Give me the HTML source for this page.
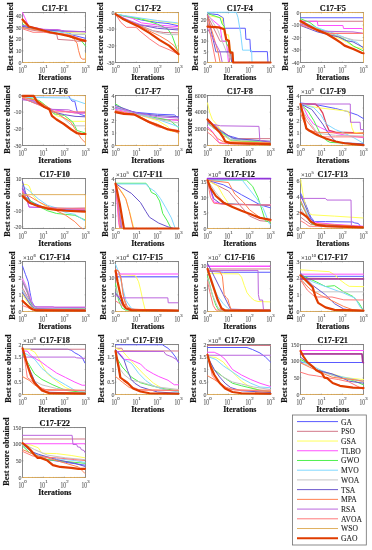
<!DOCTYPE html>
<html><head><meta charset="utf-8"><style>
html,body{margin:0;padding:0;background:#fff;}
body{width:372px;height:550px;overflow:hidden;}
svg{display:block;will-change:transform;}
.tk{font-family:"Liberation Serif",serif;font-size:6.4px;fill:#505050;stroke:#606060;stroke-width:0.12px;}
.tt{font-family:"Liberation Serif",serif;font-size:8.3px;font-weight:bold;fill:#111;stroke:#111;stroke-width:0.15px;}
.lg{font-family:"Liberation Serif",serif;font-size:7.6px;fill:#1a1a1a;stroke:#333;stroke-width:0.1px;}
</style></head><body>
<svg width="372" height="550" viewBox="0 0 372 550">
<rect width="372" height="550" fill="#fff"/>
<clipPath id="c0_0"><rect x="21" y="11" width="66" height="53"/></clipPath>
<rect x="22.5" y="12.5" width="63" height="50" fill="#fff" stroke="#6e6e6e" stroke-width="0.8"/>
<g clip-path="url(#c0_0)" fill="none" stroke-linejoin="round" stroke-linecap="round">
<path d="M22.5,25.29 L28.8,27.62 L43.5,29.94 L64.5,31.69 L68.7,32.85 L72.9,35.17 L85.5,38.31" stroke="#5a5aff" stroke-width="1.0"/>
<path d="M22.5,27.62 L30.9,29.94 L43.5,31.69 L50.01,33.2 L56.73,34.24 L57.78,39.36 L73.53,40.41 L75,40.99 L85.5,41.57" stroke="#d27888" stroke-width="1.0"/>
<path d="M22.5,21.8 L28.8,26.45 L43.5,29.94 L64.5,32.27 L85.5,33.43" stroke="#ffff5a" stroke-width="1.0"/>
<path d="M22.5,12.5 L28.8,26.45 L43.5,29.36 L58.2,29.71 L64.5,31.1 L85.5,31.69" stroke="#ff50ff" stroke-width="1.0"/>
<path d="M22.5,24.13 L28.8,27.62 L43.5,31.1 L64.5,34.59 L72.9,38.08 L80.67,39.83 L85.5,45.99" stroke="#50f050" stroke-width="1.0"/>
<path d="M22.5,26.45 L43.5,29.94 L64.5,32.85 L70.8,34.24 L85.5,34.24" stroke="#80d8ff" stroke-width="1.0"/>
<path d="M22.5,27.62 L43.5,31.1 L64.5,34.59 L85.5,34.59" stroke="#c4c4c4" stroke-width="1.0"/>
<path d="M22.5,26.45 L43.5,29.94 L64.5,31.1 L85.5,31.69" stroke="#6a56cc" stroke-width="1.0"/>
<path d="M22.5,27.62 L43.5,31.1 L64.5,34.59 L73.53,38.31 L77.1,43.43 L78.57,50.64 L80.67,57.73 L82.77,59.24 L85.5,59.01" stroke="#ff8050" stroke-width="1.0"/>
<path d="M22.5,25.29 L43.5,29.36 L58.2,29.71 L66.6,31.69 L85.5,31.69" stroke="#bb66dd" stroke-width="1.0"/>
<path d="M22.5,28.78 L33,32.27 L43.5,32.27 L64.5,34.01 L75,36.92 L85.5,40.41" stroke="#ff7a7a" stroke-width="1.0"/>
<path d="M22.5,62.5 L85.5,62.5 L85.5,53.2" stroke="#e0b060" stroke-width="1.0"/>
<path d="M22.5,19.48 L28.8,26.45 L43.5,30.52 L50.01,32.27 L60.3,34.24 L70.38,36.34 L80.67,39.94 L85.5,40.87" stroke="#e03c00" stroke-width="2.2"/>
</g>
<text transform="translate(21.6,64.75) scale(0.88,1)" class="tk" style="font-size:6.8px" text-anchor="end">0</text>
<path d="M22.5,62.5h0.9M85.5,62.5h-0.9" stroke="#6e6e6e" stroke-width="0.5"/>
<text transform="translate(21.6,53.12) scale(0.88,1)" class="tk" style="font-size:6.8px" text-anchor="end">10</text>
<path d="M22.5,50.87h0.9M85.5,50.87h-0.9" stroke="#6e6e6e" stroke-width="0.5"/>
<text transform="translate(21.6,41.49) scale(0.88,1)" class="tk" style="font-size:6.8px" text-anchor="end">20</text>
<path d="M22.5,39.24h0.9M85.5,39.24h-0.9" stroke="#6e6e6e" stroke-width="0.5"/>
<text transform="translate(21.6,29.87) scale(0.88,1)" class="tk" style="font-size:6.8px" text-anchor="end">30</text>
<path d="M22.5,27.62h0.9M85.5,27.62h-0.9" stroke="#6e6e6e" stroke-width="0.5"/>
<text transform="translate(21.6,18.24) scale(0.88,1)" class="tk" style="font-size:6.8px" text-anchor="end">40</text>
<path d="M22.5,15.99h0.9M85.5,15.99h-0.9" stroke="#6e6e6e" stroke-width="0.5"/>
<path d="M28.82,62.5v-0.6M28.82,12.5v0.6M32.52,62.5v-0.6M32.52,12.5v0.6M35.14,62.5v-0.6M35.14,12.5v0.6M37.18,62.5v-0.6M37.18,12.5v0.6M38.84,62.5v-0.6M38.84,12.5v0.6M40.25,62.5v-0.6M40.25,12.5v0.6M41.46,62.5v-0.6M41.46,12.5v0.6M42.54,62.5v-0.6M42.54,12.5v0.6M49.82,62.5v-0.6M49.82,12.5v0.6M53.52,62.5v-0.6M53.52,12.5v0.6M56.14,62.5v-0.6M56.14,12.5v0.6M58.18,62.5v-0.6M58.18,12.5v0.6M59.84,62.5v-0.6M59.84,12.5v0.6M61.25,62.5v-0.6M61.25,12.5v0.6M62.46,62.5v-0.6M62.46,12.5v0.6M63.54,62.5v-0.6M63.54,12.5v0.6M70.82,62.5v-0.6M70.82,12.5v0.6M74.52,62.5v-0.6M74.52,12.5v0.6M77.14,62.5v-0.6M77.14,12.5v0.6M79.18,62.5v-0.6M79.18,12.5v0.6M80.84,62.5v-0.6M80.84,12.5v0.6M82.25,62.5v-0.6M82.25,12.5v0.6M83.46,62.5v-0.6M83.46,12.5v0.6M84.54,62.5v-0.6M84.54,12.5v0.6" stroke="#6e6e6e" stroke-width="0.4"/>
<text transform="translate(21.25,72.5) scale(0.75,1)" class="tk" style="font-size:7.2px" text-anchor="middle">10</text>
<text x="25.5" y="67.9" class="tk" style="font-size:4.9px" text-anchor="middle">0</text>
<path d="M43.5,62.5v-0.9M43.5,12.5v0.9" stroke="#6e6e6e" stroke-width="0.5"/>
<text transform="translate(42.25,72.5) scale(0.75,1)" class="tk" style="font-size:7.2px" text-anchor="middle">10</text>
<text x="46.5" y="67.9" class="tk" style="font-size:4.9px" text-anchor="middle">1</text>
<path d="M64.5,62.5v-0.9M64.5,12.5v0.9" stroke="#6e6e6e" stroke-width="0.5"/>
<text transform="translate(63.25,72.5) scale(0.75,1)" class="tk" style="font-size:7.2px" text-anchor="middle">10</text>
<text x="67.5" y="67.9" class="tk" style="font-size:4.9px" text-anchor="middle">2</text>
<text transform="translate(84.25,72.5) scale(0.75,1)" class="tk" style="font-size:7.2px" text-anchor="middle">10</text>
<text x="88.5" y="67.9" class="tk" style="font-size:4.9px" text-anchor="middle">3</text>
<text x="54.8" y="10.6" class="tt" text-anchor="middle">C17-F1</text>
<text x="54.8" y="80.4" class="tt" style="font-size:8px" text-anchor="middle">Iterations</text>
<text transform="translate(13.1,36.5) scale(0.88,1) rotate(-90)" class="tt" text-anchor="middle">Best score obtained</text>
<clipPath id="c1_0"><rect x="114" y="11" width="66" height="53"/></clipPath>
<rect x="115.5" y="12.5" width="63" height="50" fill="#fff" stroke="#6e6e6e" stroke-width="0.8"/>
<g clip-path="url(#c1_0)" fill="none" stroke-linejoin="round" stroke-linecap="round">
<path d="M115.5,14.17 L128.1,16.67 L141.33,20 L157.5,22.5 L168,23.5 L178.5,25.83" stroke="#5a5aff" stroke-width="1.0"/>
<path d="M115.5,14.17 L128.1,20.83 L140.7,25.83 L153.3,30.83 L163.8,32.5 L178.5,32.83" stroke="#d27888" stroke-width="1.0"/>
<path d="M115.5,14.17 L136.5,18.33 L149.1,20 L163.8,21.67 L178.5,23.83" stroke="#ffff5a" stroke-width="1.0"/>
<path d="M115.5,14.17 L132.3,18.33 L141.33,22.83 L157.5,25 L178.5,26.67" stroke="#ff50ff" stroke-width="1.0"/>
<path d="M115.5,14.17 L128.1,16.67 L141.33,19 L157.5,24.17 L168,29.17 L172.2,35.83 L177.03,49.17 L178.5,52" stroke="#50f050" stroke-width="1.0"/>
<path d="M115.5,14.17 L141.33,18.17 L157.5,20.5 L177.03,22.83 L178.5,23.33" stroke="#80d8ff" stroke-width="1.0"/>
<path d="M115.5,14.17 L126,19.17 L140.7,26.67 L157.5,32.5 L168,34.5 L178.5,34.67" stroke="#c4c4c4" stroke-width="1.0"/>
<path d="M115.5,14.17 L123.9,19.17 L130.2,22.5 L140.7,25 L157.5,28.33 L178.5,30" stroke="#6a56cc" stroke-width="1.0"/>
<path d="M115.5,14.17 L126,20 L136.5,24.17 L149.1,30.83 L159.6,35.83 L168,40.83 L174.3,45.83 L178.5,52.5" stroke="#ff8050" stroke-width="1.0"/>
<path d="M115.5,14.17 L126,19.17 L141.33,25 L157.5,26.67 L178.5,28.5" stroke="#bb66dd" stroke-width="1.0"/>
<path d="M115.5,14.17 L120.96,22.5 L126.42,27.33 L136.08,27.33 L140.07,31.17 L149.73,39 L159.39,45.67 L169.05,49.67 L178.5,54.17" stroke="#ff7a7a" stroke-width="1.0"/>
<path d="M115.5,12.5 L178.5,12.5 L178.5,62.5" stroke="#e0b060" stroke-width="1.0"/>
<path d="M115.5,14.17 L122.43,18.67 L130.2,22.5 L140.07,27.33 L149.73,33.17 L159.39,39.83 L169.05,45.67 L178.5,54.17" stroke="#e03c00" stroke-width="2.2"/>
</g>
<text transform="translate(114.6,14.75) scale(0.88,1)" class="tk" style="font-size:6.8px" text-anchor="end">0</text>
<path d="M115.5,12.5h0.9M178.5,12.5h-0.9" stroke="#6e6e6e" stroke-width="0.5"/>
<text transform="translate(114.6,31.42) scale(0.88,1)" class="tk" style="font-size:6.8px" text-anchor="end">-10</text>
<path d="M115.5,29.17h0.9M178.5,29.17h-0.9" stroke="#6e6e6e" stroke-width="0.5"/>
<text transform="translate(114.6,48.08) scale(0.88,1)" class="tk" style="font-size:6.8px" text-anchor="end">-20</text>
<path d="M115.5,45.83h0.9M178.5,45.83h-0.9" stroke="#6e6e6e" stroke-width="0.5"/>
<text transform="translate(114.6,64.75) scale(0.88,1)" class="tk" style="font-size:6.8px" text-anchor="end">-30</text>
<path d="M115.5,62.5h0.9M178.5,62.5h-0.9" stroke="#6e6e6e" stroke-width="0.5"/>
<path d="M121.82,62.5v-0.6M121.82,12.5v0.6M125.52,62.5v-0.6M125.52,12.5v0.6M128.14,62.5v-0.6M128.14,12.5v0.6M130.18,62.5v-0.6M130.18,12.5v0.6M131.84,62.5v-0.6M131.84,12.5v0.6M133.25,62.5v-0.6M133.25,12.5v0.6M134.46,62.5v-0.6M134.46,12.5v0.6M135.54,62.5v-0.6M135.54,12.5v0.6M142.82,62.5v-0.6M142.82,12.5v0.6M146.52,62.5v-0.6M146.52,12.5v0.6M149.14,62.5v-0.6M149.14,12.5v0.6M151.18,62.5v-0.6M151.18,12.5v0.6M152.84,62.5v-0.6M152.84,12.5v0.6M154.25,62.5v-0.6M154.25,12.5v0.6M155.46,62.5v-0.6M155.46,12.5v0.6M156.54,62.5v-0.6M156.54,12.5v0.6M163.82,62.5v-0.6M163.82,12.5v0.6M167.52,62.5v-0.6M167.52,12.5v0.6M170.14,62.5v-0.6M170.14,12.5v0.6M172.18,62.5v-0.6M172.18,12.5v0.6M173.84,62.5v-0.6M173.84,12.5v0.6M175.25,62.5v-0.6M175.25,12.5v0.6M176.46,62.5v-0.6M176.46,12.5v0.6M177.54,62.5v-0.6M177.54,12.5v0.6" stroke="#6e6e6e" stroke-width="0.4"/>
<text transform="translate(114.25,72.5) scale(0.75,1)" class="tk" style="font-size:7.2px" text-anchor="middle">10</text>
<text x="118.5" y="67.9" class="tk" style="font-size:4.9px" text-anchor="middle">0</text>
<path d="M136.5,62.5v-0.9M136.5,12.5v0.9" stroke="#6e6e6e" stroke-width="0.5"/>
<text transform="translate(135.25,72.5) scale(0.75,1)" class="tk" style="font-size:7.2px" text-anchor="middle">10</text>
<text x="139.5" y="67.9" class="tk" style="font-size:4.9px" text-anchor="middle">1</text>
<path d="M157.5,62.5v-0.9M157.5,12.5v0.9" stroke="#6e6e6e" stroke-width="0.5"/>
<text transform="translate(156.25,72.5) scale(0.75,1)" class="tk" style="font-size:7.2px" text-anchor="middle">10</text>
<text x="160.5" y="67.9" class="tk" style="font-size:4.9px" text-anchor="middle">2</text>
<text transform="translate(177.25,72.5) scale(0.75,1)" class="tk" style="font-size:7.2px" text-anchor="middle">10</text>
<text x="181.5" y="67.9" class="tk" style="font-size:4.9px" text-anchor="middle">3</text>
<text x="147.8" y="10.6" class="tt" text-anchor="middle">C17-F2</text>
<text x="147.8" y="80.4" class="tt" style="font-size:8px" text-anchor="middle">Iterations</text>
<text transform="translate(103.2,36.5) scale(0.88,1) rotate(-90)" class="tt" text-anchor="middle">Best score obtained</text>
<clipPath id="c2_0"><rect x="206" y="11" width="66" height="53"/></clipPath>
<rect x="207.5" y="12.5" width="63" height="50" fill="#fff" stroke="#6e6e6e" stroke-width="0.8"/>
<g clip-path="url(#c2_0)" fill="none" stroke-linejoin="round" stroke-linecap="round">
<path d="M207.5,13.56 L218,14.63 L223.25,17.82 L224.3,28.24 L245.3,28.24 L245.93,39.31 L249.92,39.31 L250.55,51.65 L267.35,51.65 L267.98,62.5 L270.5,62.5" stroke="#5a5aff" stroke-width="1.0"/>
<path d="M207.5,15.69 L220.1,41.22 L228.5,41.22 L229.55,62.5" stroke="#d27888" stroke-width="1.0"/>
<path d="M207.5,15.69 L222.2,17.82 L224.3,34.84 L228.5,34.84 L231.65,62.5" stroke="#ffff5a" stroke-width="1.0"/>
<path d="M207.5,15.69 L220.1,26.33 L222.2,41.22 L226.4,41.22 L228.5,62.5" stroke="#ff50ff" stroke-width="1.0"/>
<path d="M207.5,13.56 L213.8,15.69 L220.1,17.82 L222.2,24.2 L224.3,26.33 L226.4,43.35 L232.7,53.99 L232.7,62.5" stroke="#50f050" stroke-width="1.0"/>
<path d="M207.5,12.29 L236.27,12.29 L237.95,17.39 L240.68,33.78 L242.57,50.16 L251.6,50.16 L252.02,62.5" stroke="#80d8ff" stroke-width="1.0"/>
<path d="M207.5,13.56 L218,30.59 L226.4,51.86 L232.7,62.5" stroke="#c4c4c4" stroke-width="1.0"/>
<path d="M207.5,14.63 L215.9,51.86 L230.6,51.86 L231.65,62.5" stroke="#6a56cc" stroke-width="1.0"/>
<path d="M207.5,15.69 L218,51.86 L220.1,62.5" stroke="#ff8050" stroke-width="1.0"/>
<path d="M207.5,28.46 L220.1,51.86 L222.2,62.5" stroke="#bb66dd" stroke-width="1.0"/>
<path d="M207.5,19.95 L215.9,62.5" stroke="#ff7a7a" stroke-width="1.0"/>
<path d="M207.5,62.5 L270.5,62.5" stroke="#e0b060" stroke-width="1.0"/>
<path d="M207.5,26.54 L218.84,27.39 L224.3,29.31 L226.19,39.31 L228.92,41.01 L229.76,51.01 L230.6,52.71 L232.49,52.71 L233.12,62.5 L270.5,62.5" stroke="#e03c00" stroke-width="2.2"/>
</g>
<text transform="translate(206.6,64.75) scale(0.88,1)" class="tk" style="font-size:6.8px" text-anchor="end">0</text>
<path d="M207.5,62.5h0.9M270.5,62.5h-0.9" stroke="#6e6e6e" stroke-width="0.5"/>
<text transform="translate(206.6,54.11) scale(0.88,1)" class="tk" style="font-size:6.8px" text-anchor="end">5</text>
<path d="M207.5,51.86h0.9M270.5,51.86h-0.9" stroke="#6e6e6e" stroke-width="0.5"/>
<text transform="translate(206.6,43.47) scale(0.88,1)" class="tk" style="font-size:6.8px" text-anchor="end">10</text>
<path d="M207.5,41.22h0.9M270.5,41.22h-0.9" stroke="#6e6e6e" stroke-width="0.5"/>
<text transform="translate(206.6,32.84) scale(0.88,1)" class="tk" style="font-size:6.8px" text-anchor="end">15</text>
<path d="M207.5,30.59h0.9M270.5,30.59h-0.9" stroke="#6e6e6e" stroke-width="0.5"/>
<text transform="translate(206.6,22.2) scale(0.88,1)" class="tk" style="font-size:6.8px" text-anchor="end">20</text>
<path d="M207.5,19.95h0.9M270.5,19.95h-0.9" stroke="#6e6e6e" stroke-width="0.5"/>
<path d="M213.82,62.5v-0.6M213.82,12.5v0.6M217.52,62.5v-0.6M217.52,12.5v0.6M220.14,62.5v-0.6M220.14,12.5v0.6M222.18,62.5v-0.6M222.18,12.5v0.6M223.84,62.5v-0.6M223.84,12.5v0.6M225.25,62.5v-0.6M225.25,12.5v0.6M226.46,62.5v-0.6M226.46,12.5v0.6M227.54,62.5v-0.6M227.54,12.5v0.6M234.82,62.5v-0.6M234.82,12.5v0.6M238.52,62.5v-0.6M238.52,12.5v0.6M241.14,62.5v-0.6M241.14,12.5v0.6M243.18,62.5v-0.6M243.18,12.5v0.6M244.84,62.5v-0.6M244.84,12.5v0.6M246.25,62.5v-0.6M246.25,12.5v0.6M247.46,62.5v-0.6M247.46,12.5v0.6M248.54,62.5v-0.6M248.54,12.5v0.6M255.82,62.5v-0.6M255.82,12.5v0.6M259.52,62.5v-0.6M259.52,12.5v0.6M262.14,62.5v-0.6M262.14,12.5v0.6M264.18,62.5v-0.6M264.18,12.5v0.6M265.84,62.5v-0.6M265.84,12.5v0.6M267.25,62.5v-0.6M267.25,12.5v0.6M268.46,62.5v-0.6M268.46,12.5v0.6M269.54,62.5v-0.6M269.54,12.5v0.6" stroke="#6e6e6e" stroke-width="0.4"/>
<text transform="translate(206.25,72.5) scale(0.75,1)" class="tk" style="font-size:7.2px" text-anchor="middle">10</text>
<text x="210.5" y="67.9" class="tk" style="font-size:4.9px" text-anchor="middle">0</text>
<path d="M228.5,62.5v-0.9M228.5,12.5v0.9" stroke="#6e6e6e" stroke-width="0.5"/>
<text transform="translate(227.25,72.5) scale(0.75,1)" class="tk" style="font-size:7.2px" text-anchor="middle">10</text>
<text x="231.5" y="67.9" class="tk" style="font-size:4.9px" text-anchor="middle">1</text>
<path d="M249.5,62.5v-0.9M249.5,12.5v0.9" stroke="#6e6e6e" stroke-width="0.5"/>
<text transform="translate(248.25,72.5) scale(0.75,1)" class="tk" style="font-size:7.2px" text-anchor="middle">10</text>
<text x="252.5" y="67.9" class="tk" style="font-size:4.9px" text-anchor="middle">2</text>
<text transform="translate(269.25,72.5) scale(0.75,1)" class="tk" style="font-size:7.2px" text-anchor="middle">10</text>
<text x="273.5" y="67.9" class="tk" style="font-size:4.9px" text-anchor="middle">3</text>
<text x="239.8" y="10.6" class="tt" text-anchor="middle">C17-F4</text>
<text x="239.8" y="80.4" class="tt" style="font-size:8px" text-anchor="middle">Iterations</text>
<text transform="translate(198.1,36.5) scale(0.88,1) rotate(-90)" class="tt" text-anchor="middle">Best score obtained</text>
<clipPath id="c3_0"><rect x="299" y="11" width="66" height="53"/></clipPath>
<rect x="300.5" y="12.5" width="63" height="50" fill="#fff" stroke="#6e6e6e" stroke-width="0.8"/>
<g clip-path="url(#c3_0)" fill="none" stroke-linejoin="round" stroke-linecap="round">
<path d="M300.5,17.75 L363.5,17.75" stroke="#5a5aff" stroke-width="1.0"/>
<path d="M300.5,21.25 L363.5,21.25" stroke="#d27888" stroke-width="1.0"/>
<path d="M300.5,22.5 L317.3,28.75 L335.57,36.88 L346.7,41.88 L353.84,46.88 L363.5,48.75" stroke="#ffff5a" stroke-width="1.0"/>
<path d="M300.5,21.25 L317.3,21.25 L317.93,25.5 L342.92,25.5 L343.55,28.5 L362.03,28.5 L362.66,29.25 L363.5,29.25" stroke="#ff50ff" stroke-width="1.0"/>
<path d="M300.5,18.75 L309.95,22.5 L317.3,28.25 L327.8,32.5 L336.2,35.62 L344.6,39.25 L353.84,46.25 L363.5,51" stroke="#50f050" stroke-width="1.0"/>
<path d="M300.5,21 L313.1,26.25 L325.7,30.62 L335.57,33.75 L348.8,39.25 L357.2,42.5 L361.4,46.25 L363.5,48.75" stroke="#80d8ff" stroke-width="1.0"/>
<path d="M300.5,23.75 L317.3,29.38 L332,34.38 L346.7,38.12 L353.84,40 L363.5,40.62" stroke="#c4c4c4" stroke-width="1.0"/>
<path d="M300.5,25.5 L317.3,31.88 L329.9,35 L338.3,36.88 L346.07,40.62 L353,41.88 L363.5,47.5" stroke="#6a56cc" stroke-width="1.0"/>
<path d="M300.5,22.5 L313.1,27.5 L326.54,33.38 L363.5,33.38" stroke="#ff8050" stroke-width="1.0"/>
<path d="M300.5,23.75 L317.3,30.12 L325.7,31.25 L353,31.88 L362.03,33.12 L363.5,33.75" stroke="#bb66dd" stroke-width="1.0"/>
<path d="M300.5,25 L317.3,30.62 L326.54,33.38 L363.5,33.38" stroke="#ff7a7a" stroke-width="1.0"/>
<path d="M300.5,12.5 L363.5,12.5 L363.5,62.5" stroke="#e0b060" stroke-width="1.0"/>
<path d="M300.5,21 L308.27,25.5 L317.3,30.12 L326.54,33.75 L335.57,39.25 L341.03,42.88 L344.6,45.62 L353.84,49.25 L362.03,53 L363.5,53.25" stroke="#e03c00" stroke-width="2.2"/>
</g>
<text transform="translate(299.6,14.75) scale(0.88,1)" class="tk" style="font-size:6.8px" text-anchor="end">0</text>
<path d="M300.5,12.5h0.9M363.5,12.5h-0.9" stroke="#6e6e6e" stroke-width="0.5"/>
<text transform="translate(299.6,27.25) scale(0.88,1)" class="tk" style="font-size:6.8px" text-anchor="end">-10</text>
<path d="M300.5,25h0.9M363.5,25h-0.9" stroke="#6e6e6e" stroke-width="0.5"/>
<text transform="translate(299.6,39.75) scale(0.88,1)" class="tk" style="font-size:6.8px" text-anchor="end">-20</text>
<path d="M300.5,37.5h0.9M363.5,37.5h-0.9" stroke="#6e6e6e" stroke-width="0.5"/>
<text transform="translate(299.6,52.25) scale(0.88,1)" class="tk" style="font-size:6.8px" text-anchor="end">-30</text>
<path d="M300.5,50h0.9M363.5,50h-0.9" stroke="#6e6e6e" stroke-width="0.5"/>
<text transform="translate(299.6,64.75) scale(0.88,1)" class="tk" style="font-size:6.8px" text-anchor="end">-40</text>
<path d="M300.5,62.5h0.9M363.5,62.5h-0.9" stroke="#6e6e6e" stroke-width="0.5"/>
<path d="M306.82,62.5v-0.6M306.82,12.5v0.6M310.52,62.5v-0.6M310.52,12.5v0.6M313.14,62.5v-0.6M313.14,12.5v0.6M315.18,62.5v-0.6M315.18,12.5v0.6M316.84,62.5v-0.6M316.84,12.5v0.6M318.25,62.5v-0.6M318.25,12.5v0.6M319.46,62.5v-0.6M319.46,12.5v0.6M320.54,62.5v-0.6M320.54,12.5v0.6M327.82,62.5v-0.6M327.82,12.5v0.6M331.52,62.5v-0.6M331.52,12.5v0.6M334.14,62.5v-0.6M334.14,12.5v0.6M336.18,62.5v-0.6M336.18,12.5v0.6M337.84,62.5v-0.6M337.84,12.5v0.6M339.25,62.5v-0.6M339.25,12.5v0.6M340.46,62.5v-0.6M340.46,12.5v0.6M341.54,62.5v-0.6M341.54,12.5v0.6M348.82,62.5v-0.6M348.82,12.5v0.6M352.52,62.5v-0.6M352.52,12.5v0.6M355.14,62.5v-0.6M355.14,12.5v0.6M357.18,62.5v-0.6M357.18,12.5v0.6M358.84,62.5v-0.6M358.84,12.5v0.6M360.25,62.5v-0.6M360.25,12.5v0.6M361.46,62.5v-0.6M361.46,12.5v0.6M362.54,62.5v-0.6M362.54,12.5v0.6" stroke="#6e6e6e" stroke-width="0.4"/>
<text transform="translate(299.25,72.5) scale(0.75,1)" class="tk" style="font-size:7.2px" text-anchor="middle">10</text>
<text x="303.5" y="67.9" class="tk" style="font-size:4.9px" text-anchor="middle">0</text>
<path d="M321.5,62.5v-0.9M321.5,12.5v0.9" stroke="#6e6e6e" stroke-width="0.5"/>
<text transform="translate(320.25,72.5) scale(0.75,1)" class="tk" style="font-size:7.2px" text-anchor="middle">10</text>
<text x="324.5" y="67.9" class="tk" style="font-size:4.9px" text-anchor="middle">1</text>
<path d="M342.5,62.5v-0.9M342.5,12.5v0.9" stroke="#6e6e6e" stroke-width="0.5"/>
<text transform="translate(341.25,72.5) scale(0.75,1)" class="tk" style="font-size:7.2px" text-anchor="middle">10</text>
<text x="345.5" y="67.9" class="tk" style="font-size:4.9px" text-anchor="middle">2</text>
<text transform="translate(362.25,72.5) scale(0.75,1)" class="tk" style="font-size:7.2px" text-anchor="middle">10</text>
<text x="366.5" y="67.9" class="tk" style="font-size:4.9px" text-anchor="middle">3</text>
<text x="332.8" y="10.6" class="tt" text-anchor="middle">C17-F5</text>
<text x="332.8" y="80.4" class="tt" style="font-size:8px" text-anchor="middle">Iterations</text>
<text transform="translate(288.2,36.5) scale(0.88,1) rotate(-90)" class="tt" text-anchor="middle">Best score obtained</text>
<clipPath id="c0_1"><rect x="21" y="94" width="66" height="53"/></clipPath>
<rect x="22.5" y="95.5" width="63" height="50" fill="#fff" stroke="#6e6e6e" stroke-width="0.8"/>
<g clip-path="url(#c0_1)" fill="none" stroke-linejoin="round" stroke-linecap="round">
<path d="M22.5,95.67 L68.49,95.67 L72.06,101.17 L74.79,101.17 L77.52,113 L81.3,114.67 L85.5,116" stroke="#5a5aff" stroke-width="1.0"/>
<path d="M22.5,98 L39.3,102.17 L51.48,109.33 L64.5,111.33 L75,113 L85.5,113" stroke="#d27888" stroke-width="1.0"/>
<path d="M22.5,97.17 L33,98 L43.5,103.83 L56.1,115.5 L66.6,118.83 L70.8,121.33 L85.5,121.33" stroke="#ffff5a" stroke-width="1.0"/>
<path d="M22.5,99.17 L35.1,100.17 L43.5,105.5 L51.48,109.33 L64.5,111.33 L77.1,113 L85.5,113" stroke="#ff50ff" stroke-width="1.0"/>
<path d="M22.5,96.83 L39.3,100.5 L47.7,107.17 L54,113.83 L64.5,115.5 L72.9,122.17 L77.1,130.5 L85.5,133" stroke="#50f050" stroke-width="1.0"/>
<path d="M22.5,97.33 L68.49,98 L85.5,103.83" stroke="#80d8ff" stroke-width="1.0"/>
<path d="M22.5,97.17 L43.5,105.5 L60.3,115.5 L70.8,124.67 L75,125.83 L85.5,125.83" stroke="#c4c4c4" stroke-width="1.0"/>
<path d="M22.5,98.5 L43.5,106.33 L54,112.17 L64.5,114.67 L75,116.33 L85.5,116.83" stroke="#6a56cc" stroke-width="1.0"/>
<path d="M22.5,97.17 L37.2,100.5 L47.7,107.17 L60.3,115.5 L70.8,122.17 L77.1,132.17 L81.3,138.67 L85.5,142.83" stroke="#ff8050" stroke-width="1.0"/>
<path d="M22.5,99.83 L33,100.83 L45.6,108 L51.9,109.33 L68.7,109.83 L77.1,112.67 L85.5,112.67" stroke="#bb66dd" stroke-width="1.0"/>
<path d="M22.5,98 L45.6,108 L51.9,111.83 L85.5,111.83" stroke="#ff7a7a" stroke-width="1.0"/>
<path d="M22.5,95.5 L85.5,95.5 L85.5,145.5" stroke="#e0b060" stroke-width="1.0"/>
<path d="M22.5,95.83 L33.63,95.83 L37.41,102 L43.71,106.67 L49.38,109.33 L51.9,115.83 L56.52,119.5 L63.87,124 L71.22,129.5 L76.68,133.17 L81.3,133.83 L85.5,134" stroke="#e03c00" stroke-width="2.2"/>
</g>
<text transform="translate(21.6,97.75) scale(0.88,1)" class="tk" style="font-size:6.8px" text-anchor="end">0</text>
<path d="M22.5,95.5h0.9M85.5,95.5h-0.9" stroke="#6e6e6e" stroke-width="0.5"/>
<text transform="translate(21.6,114.42) scale(0.88,1)" class="tk" style="font-size:6.8px" text-anchor="end">-10</text>
<path d="M22.5,112.17h0.9M85.5,112.17h-0.9" stroke="#6e6e6e" stroke-width="0.5"/>
<text transform="translate(21.6,131.08) scale(0.88,1)" class="tk" style="font-size:6.8px" text-anchor="end">-20</text>
<path d="M22.5,128.83h0.9M85.5,128.83h-0.9" stroke="#6e6e6e" stroke-width="0.5"/>
<text transform="translate(21.6,147.75) scale(0.88,1)" class="tk" style="font-size:6.8px" text-anchor="end">-30</text>
<path d="M22.5,145.5h0.9M85.5,145.5h-0.9" stroke="#6e6e6e" stroke-width="0.5"/>
<path d="M28.82,145.5v-0.6M28.82,95.5v0.6M32.52,145.5v-0.6M32.52,95.5v0.6M35.14,145.5v-0.6M35.14,95.5v0.6M37.18,145.5v-0.6M37.18,95.5v0.6M38.84,145.5v-0.6M38.84,95.5v0.6M40.25,145.5v-0.6M40.25,95.5v0.6M41.46,145.5v-0.6M41.46,95.5v0.6M42.54,145.5v-0.6M42.54,95.5v0.6M49.82,145.5v-0.6M49.82,95.5v0.6M53.52,145.5v-0.6M53.52,95.5v0.6M56.14,145.5v-0.6M56.14,95.5v0.6M58.18,145.5v-0.6M58.18,95.5v0.6M59.84,145.5v-0.6M59.84,95.5v0.6M61.25,145.5v-0.6M61.25,95.5v0.6M62.46,145.5v-0.6M62.46,95.5v0.6M63.54,145.5v-0.6M63.54,95.5v0.6M70.82,145.5v-0.6M70.82,95.5v0.6M74.52,145.5v-0.6M74.52,95.5v0.6M77.14,145.5v-0.6M77.14,95.5v0.6M79.18,145.5v-0.6M79.18,95.5v0.6M80.84,145.5v-0.6M80.84,95.5v0.6M82.25,145.5v-0.6M82.25,95.5v0.6M83.46,145.5v-0.6M83.46,95.5v0.6M84.54,145.5v-0.6M84.54,95.5v0.6" stroke="#6e6e6e" stroke-width="0.4"/>
<text transform="translate(21.25,155.5) scale(0.75,1)" class="tk" style="font-size:7.2px" text-anchor="middle">10</text>
<text x="25.5" y="150.9" class="tk" style="font-size:4.9px" text-anchor="middle">0</text>
<path d="M43.5,145.5v-0.9M43.5,95.5v0.9" stroke="#6e6e6e" stroke-width="0.5"/>
<text transform="translate(42.25,155.5) scale(0.75,1)" class="tk" style="font-size:7.2px" text-anchor="middle">10</text>
<text x="46.5" y="150.9" class="tk" style="font-size:4.9px" text-anchor="middle">1</text>
<path d="M64.5,145.5v-0.9M64.5,95.5v0.9" stroke="#6e6e6e" stroke-width="0.5"/>
<text transform="translate(63.25,155.5) scale(0.75,1)" class="tk" style="font-size:7.2px" text-anchor="middle">10</text>
<text x="67.5" y="150.9" class="tk" style="font-size:4.9px" text-anchor="middle">2</text>
<text transform="translate(84.25,155.5) scale(0.75,1)" class="tk" style="font-size:7.2px" text-anchor="middle">10</text>
<text x="88.5" y="150.9" class="tk" style="font-size:4.9px" text-anchor="middle">3</text>
<text x="54.8" y="93.6" class="tt" text-anchor="middle">C17-F6</text>
<text x="54.8" y="163.4" class="tt" style="font-size:8px" text-anchor="middle">Iterations</text>
<text transform="translate(10.2,119.5) scale(0.88,1) rotate(-90)" class="tt" text-anchor="middle">Best score obtained</text>
<clipPath id="c1_1"><rect x="114" y="94" width="66" height="53"/></clipPath>
<rect x="115.5" y="95.5" width="63" height="50" fill="#fff" stroke="#6e6e6e" stroke-width="0.8"/>
<g clip-path="url(#c1_1)" fill="none" stroke-linejoin="round" stroke-linecap="round">
<path d="M115.5,108 L126,110.5 L136.5,112.38 L157.5,114.25 L174.3,114.88 L178.5,118" stroke="#5a5aff" stroke-width="1.0"/>
<path d="M115.5,110.5 L136.5,114.25 L157.5,119.25 L178.5,119.88" stroke="#d27888" stroke-width="1.0"/>
<path d="M115.5,109.25 L136.5,114.25 L157.5,120.5 L168,126.75 L170.1,131.12 L178.5,131.75" stroke="#ffff5a" stroke-width="1.0"/>
<path d="M115.5,109.25 L136.5,114.25 L157.5,118.62 L178.5,120.5" stroke="#ff50ff" stroke-width="1.0"/>
<path d="M115.5,103.88 L126,110.5 L136.5,114.25 L157.5,118 L170.1,120.5 L178.5,127.62" stroke="#50f050" stroke-width="1.0"/>
<path d="M115.5,108 L136.5,113 L157.5,119.25 L178.5,126.75" stroke="#80d8ff" stroke-width="1.0"/>
<path d="M115.5,106.75 L136.5,114.25 L157.5,119.25 L178.5,123" stroke="#c4c4c4" stroke-width="1.0"/>
<path d="M115.5,105.5 L136.5,113 L157.5,115.5 L178.5,116.75" stroke="#6a56cc" stroke-width="1.0"/>
<path d="M115.5,111.12 L136.5,114.88 L147,120.5 L157.5,124.25 L168,129.25 L178.5,133" stroke="#ff8050" stroke-width="1.0"/>
<path d="M115.5,107.38 L136.5,113 L157.5,116.75 L178.5,118" stroke="#bb66dd" stroke-width="1.0"/>
<path d="M115.5,112.38 L136.5,115.5 L147,121.75 L157.5,126.75 L168,128.62 L178.5,130.5" stroke="#ff7a7a" stroke-width="1.0"/>
<path d="M115.5,145.5 L178.5,145.5 L178.5,134.25" stroke="#e0b060" stroke-width="1.0"/>
<path d="M115.5,112.12 L123.9,113.88 L133.98,114.38 L138.6,116.75 L149.52,122.25 L158.76,125.75 L168,129.5 L178.5,131.25" stroke="#e03c00" stroke-width="2.2"/>
</g>
<text transform="translate(114.6,147.75) scale(0.88,1)" class="tk" style="font-size:6.8px" text-anchor="end">0</text>
<path d="M115.5,145.5h0.9M178.5,145.5h-0.9" stroke="#6e6e6e" stroke-width="0.5"/>
<text transform="translate(114.6,135.25) scale(0.88,1)" class="tk" style="font-size:6.8px" text-anchor="end">1</text>
<path d="M115.5,133h0.9M178.5,133h-0.9" stroke="#6e6e6e" stroke-width="0.5"/>
<text transform="translate(114.6,122.75) scale(0.88,1)" class="tk" style="font-size:6.8px" text-anchor="end">2</text>
<path d="M115.5,120.5h0.9M178.5,120.5h-0.9" stroke="#6e6e6e" stroke-width="0.5"/>
<text transform="translate(114.6,110.25) scale(0.88,1)" class="tk" style="font-size:6.8px" text-anchor="end">3</text>
<path d="M115.5,108h0.9M178.5,108h-0.9" stroke="#6e6e6e" stroke-width="0.5"/>
<text transform="translate(114.6,97.75) scale(0.88,1)" class="tk" style="font-size:6.8px" text-anchor="end">4</text>
<path d="M115.5,95.5h0.9M178.5,95.5h-0.9" stroke="#6e6e6e" stroke-width="0.5"/>
<path d="M121.82,145.5v-0.6M121.82,95.5v0.6M125.52,145.5v-0.6M125.52,95.5v0.6M128.14,145.5v-0.6M128.14,95.5v0.6M130.18,145.5v-0.6M130.18,95.5v0.6M131.84,145.5v-0.6M131.84,95.5v0.6M133.25,145.5v-0.6M133.25,95.5v0.6M134.46,145.5v-0.6M134.46,95.5v0.6M135.54,145.5v-0.6M135.54,95.5v0.6M142.82,145.5v-0.6M142.82,95.5v0.6M146.52,145.5v-0.6M146.52,95.5v0.6M149.14,145.5v-0.6M149.14,95.5v0.6M151.18,145.5v-0.6M151.18,95.5v0.6M152.84,145.5v-0.6M152.84,95.5v0.6M154.25,145.5v-0.6M154.25,95.5v0.6M155.46,145.5v-0.6M155.46,95.5v0.6M156.54,145.5v-0.6M156.54,95.5v0.6M163.82,145.5v-0.6M163.82,95.5v0.6M167.52,145.5v-0.6M167.52,95.5v0.6M170.14,145.5v-0.6M170.14,95.5v0.6M172.18,145.5v-0.6M172.18,95.5v0.6M173.84,145.5v-0.6M173.84,95.5v0.6M175.25,145.5v-0.6M175.25,95.5v0.6M176.46,145.5v-0.6M176.46,95.5v0.6M177.54,145.5v-0.6M177.54,95.5v0.6" stroke="#6e6e6e" stroke-width="0.4"/>
<text transform="translate(114.25,155.5) scale(0.75,1)" class="tk" style="font-size:7.2px" text-anchor="middle">10</text>
<text x="118.5" y="150.9" class="tk" style="font-size:4.9px" text-anchor="middle">0</text>
<path d="M136.5,145.5v-0.9M136.5,95.5v0.9" stroke="#6e6e6e" stroke-width="0.5"/>
<text transform="translate(135.25,155.5) scale(0.75,1)" class="tk" style="font-size:7.2px" text-anchor="middle">10</text>
<text x="139.5" y="150.9" class="tk" style="font-size:4.9px" text-anchor="middle">1</text>
<path d="M157.5,145.5v-0.9M157.5,95.5v0.9" stroke="#6e6e6e" stroke-width="0.5"/>
<text transform="translate(156.25,155.5) scale(0.75,1)" class="tk" style="font-size:7.2px" text-anchor="middle">10</text>
<text x="160.5" y="150.9" class="tk" style="font-size:4.9px" text-anchor="middle">2</text>
<text transform="translate(177.25,155.5) scale(0.75,1)" class="tk" style="font-size:7.2px" text-anchor="middle">10</text>
<text x="181.5" y="150.9" class="tk" style="font-size:4.9px" text-anchor="middle">3</text>
<text x="147.8" y="93.6" class="tt" text-anchor="middle">C17-F7</text>
<text x="147.8" y="163.4" class="tt" style="font-size:8px" text-anchor="middle">Iterations</text>
<text transform="translate(108.3,119.5) scale(0.88,1) rotate(-90)" class="tt" text-anchor="middle">Best score obtained</text>
<clipPath id="c2_1"><rect x="206" y="94" width="66" height="53"/></clipPath>
<rect x="207.5" y="95.5" width="63" height="50" fill="#fff" stroke="#6e6e6e" stroke-width="0.8"/>
<g clip-path="url(#c2_1)" fill="none" stroke-linejoin="round" stroke-linecap="round">
<path d="M207.56,120.34 L214.14,126.73 L219.62,131.31 L225.12,134.05 L228.77,135.88 L232.43,136.79 L241.56,139.53 L259.85,140.99 L269.89,141.73" stroke="#5a5aff" stroke-width="1.0"/>
<path d="M207.56,122.16 L215.96,125.82 L221.44,130.39 L232.43,138.62 L269.89,138.62" stroke="#d27888" stroke-width="1.0"/>
<path d="M207.56,102.97 L209.58,112.11 L212.31,119.42 L217.79,125.82 L223.29,134.05 L228.77,139.9 L232.43,140.99 L269.89,142.27" stroke="#ffff5a" stroke-width="1.0"/>
<path d="M207.56,126.73 L212.31,131.31 L215.96,136.79 L218.71,142.27 L223.29,143.55 L269.89,144.1" stroke="#ff50ff" stroke-width="1.0"/>
<path d="M207.56,123.08 L214.14,128.56 L219.62,131.31 L225.12,134.96 L230.6,139.9 L241.56,140.99 L269.89,141.73" stroke="#50f050" stroke-width="1.0"/>
<path d="M207.56,119.42 L215.96,127.65 L223.29,133.13 L232.43,138.62 L250.7,140.45 L269.89,140.99" stroke="#80d8ff" stroke-width="1.0"/>
<path d="M207.56,123.99 L215.96,129.48 L223.29,135.88 L232.43,139.9 L269.89,141.36" stroke="#c4c4c4" stroke-width="1.0"/>
<path d="M207.56,118.51 L214.14,125.82 L221.44,131.31 L226.95,134.96 L234.25,138.62 L259.85,140.45 L269.89,142.27" stroke="#6a56cc" stroke-width="1.0"/>
<path d="M207.56,128.56 L212.31,132.22 L217.79,138.62 L223.29,141.73 L269.89,142.82" stroke="#ff8050" stroke-width="1.0"/>
<path d="M207.56,123.08 L215.96,124.91 L220.54,125.82 L258.93,126.37 L259.85,140.45 L269.89,141.36" stroke="#bb66dd" stroke-width="1.0"/>
<path d="M207.56,132.22 L212.31,135.88 L215.96,139.9 L219.62,143.19 L269.89,143.92" stroke="#ff7a7a" stroke-width="1.0"/>
<path d="M207.5,145.5 L270.5,145.5" stroke="#e0b060" stroke-width="1.0"/>
<path d="M207.56,119.42 L214.14,126.73 L219.62,132.22 L223.29,137.7 L225.12,141.36 L230.6,143.19 L269.89,144.1" stroke="#e03c00" stroke-width="2.2"/>
</g>
<text transform="translate(206.6,147.75) scale(0.88,1)" class="tk" style="font-size:6.8px" text-anchor="end">0</text>
<path d="M207.5,145.5h0.9M270.5,145.5h-0.9" stroke="#6e6e6e" stroke-width="0.5"/>
<text transform="translate(206.6,131.08) scale(0.88,1)" class="tk" style="font-size:6.8px" text-anchor="end">2000</text>
<path d="M207.5,128.83h0.9M270.5,128.83h-0.9" stroke="#6e6e6e" stroke-width="0.5"/>
<text transform="translate(206.6,114.42) scale(0.88,1)" class="tk" style="font-size:6.8px" text-anchor="end">4000</text>
<path d="M207.5,112.17h0.9M270.5,112.17h-0.9" stroke="#6e6e6e" stroke-width="0.5"/>
<text transform="translate(206.6,97.75) scale(0.88,1)" class="tk" style="font-size:6.8px" text-anchor="end">6000</text>
<path d="M207.5,95.5h0.9M270.5,95.5h-0.9" stroke="#6e6e6e" stroke-width="0.5"/>
<path d="M213.82,145.5v-0.6M213.82,95.5v0.6M217.52,145.5v-0.6M217.52,95.5v0.6M220.14,145.5v-0.6M220.14,95.5v0.6M222.18,145.5v-0.6M222.18,95.5v0.6M223.84,145.5v-0.6M223.84,95.5v0.6M225.25,145.5v-0.6M225.25,95.5v0.6M226.46,145.5v-0.6M226.46,95.5v0.6M227.54,145.5v-0.6M227.54,95.5v0.6M234.82,145.5v-0.6M234.82,95.5v0.6M238.52,145.5v-0.6M238.52,95.5v0.6M241.14,145.5v-0.6M241.14,95.5v0.6M243.18,145.5v-0.6M243.18,95.5v0.6M244.84,145.5v-0.6M244.84,95.5v0.6M246.25,145.5v-0.6M246.25,95.5v0.6M247.46,145.5v-0.6M247.46,95.5v0.6M248.54,145.5v-0.6M248.54,95.5v0.6M255.82,145.5v-0.6M255.82,95.5v0.6M259.52,145.5v-0.6M259.52,95.5v0.6M262.14,145.5v-0.6M262.14,95.5v0.6M264.18,145.5v-0.6M264.18,95.5v0.6M265.84,145.5v-0.6M265.84,95.5v0.6M267.25,145.5v-0.6M267.25,95.5v0.6M268.46,145.5v-0.6M268.46,95.5v0.6M269.54,145.5v-0.6M269.54,95.5v0.6" stroke="#6e6e6e" stroke-width="0.4"/>
<text transform="translate(206.25,155.5) scale(0.75,1)" class="tk" style="font-size:7.2px" text-anchor="middle">10</text>
<text x="210.5" y="150.9" class="tk" style="font-size:4.9px" text-anchor="middle">0</text>
<path d="M228.5,145.5v-0.9M228.5,95.5v0.9" stroke="#6e6e6e" stroke-width="0.5"/>
<text transform="translate(227.25,155.5) scale(0.75,1)" class="tk" style="font-size:7.2px" text-anchor="middle">10</text>
<text x="231.5" y="150.9" class="tk" style="font-size:4.9px" text-anchor="middle">1</text>
<path d="M249.5,145.5v-0.9M249.5,95.5v0.9" stroke="#6e6e6e" stroke-width="0.5"/>
<text transform="translate(248.25,155.5) scale(0.75,1)" class="tk" style="font-size:7.2px" text-anchor="middle">10</text>
<text x="252.5" y="150.9" class="tk" style="font-size:4.9px" text-anchor="middle">2</text>
<text transform="translate(269.25,155.5) scale(0.75,1)" class="tk" style="font-size:7.2px" text-anchor="middle">10</text>
<text x="273.5" y="150.9" class="tk" style="font-size:4.9px" text-anchor="middle">3</text>
<text x="239.8" y="93.6" class="tt" text-anchor="middle">C17-F8</text>
<text x="239.8" y="163.4" class="tt" style="font-size:8px" text-anchor="middle">Iterations</text>
<text transform="translate(192.4,119.5) scale(0.88,1) rotate(-90)" class="tt" text-anchor="middle">Best score obtained</text>
<clipPath id="c3_1"><rect x="299" y="94" width="66" height="53"/></clipPath>
<rect x="300.5" y="95.5" width="63" height="50" fill="#fff" stroke="#6e6e6e" stroke-width="0.8"/>
<g clip-path="url(#c3_1)" fill="none" stroke-linejoin="round" stroke-linecap="round">
<path d="M300.5,103 L317.3,104.88 L335.57,108.5 L346.49,111.25 L351.95,113.12 L357.41,115 L363.5,118.62" stroke="#5a5aff" stroke-width="1.0"/>
<path d="M300.5,104 L315.41,104 L319.19,107.62 L322.76,113.12 L326.33,124.12 L329.06,130.5 L335.57,132.25 L363.5,132.88" stroke="#e0405a" stroke-width="1.3"/>
<path d="M300.5,104 L317.3,107.62 L348.38,111.25 L350.27,116.75 L351.95,127.75 L353.84,132.25 L363.5,133.25" stroke="#ffff5a" stroke-width="1.0"/>
<path d="M300.5,104 L304.49,109.5 L308.06,116.75 L313.73,124.12 L320.87,127.75 L326.33,130.5 L335.57,133.25 L344.6,135 L363.5,137.75" stroke="#ff50ff" stroke-width="1.0"/>
<path d="M300.5,104 L308.06,111.25 L313.73,120.38 L317.3,127.75 L320.87,135 L326.33,140.5 L330.11,142.38 L363.5,144.25" stroke="#50f050" stroke-width="1.0"/>
<path d="M300.5,104 L313.73,107.62 L320.87,115 L326.33,124.12 L335.57,129.62 L344.6,133.25 L353.84,137.75 L363.5,143.25" stroke="#80d8ff" stroke-width="1.0"/>
<path d="M300.5,107.62 L309.95,122.25 L317.3,133.25 L335.57,135.38 L363.5,136" stroke="#c4c4c4" stroke-width="1.0"/>
<path d="M300.5,104 L311.84,109.5 L317.3,116.75 L322.76,124.12 L328.22,133.25 L333.68,139.62 L337.46,142.38 L363.5,143.88" stroke="#6a56cc" stroke-width="1.0"/>
<path d="M300.5,113.12 L306.38,127.75 L309.95,130.5 L317.3,132.25 L363.5,133.62" stroke="#ff8050" stroke-width="1.0"/>
<path d="M300.5,104 L350.27,104 L350.48,122.25 L360.14,122.25 L360.56,129.62 L363.5,129.62" stroke="#bb66dd" stroke-width="1.0"/>
<path d="M300.5,106.75 L306.38,120.38 L313.73,129.62 L320.87,136.88 L335.57,136.88 L363.5,136.88" stroke="#ff7a7a" stroke-width="1.0"/>
<path d="M300.5,145.5 L363.5,145.5" stroke="#e0b060" stroke-width="1.0"/>
<path d="M300.5,104 L306.38,128.62 L309.11,130.5 L317.3,135 L326.33,138.75 L335.57,141.5 L344.6,143.25 L363.5,145.12" stroke="#e03c00" stroke-width="2.2"/>
</g>
<text transform="translate(299.6,147.75) scale(0.88,1)" class="tk" style="font-size:6.8px" text-anchor="end">0</text>
<path d="M300.5,145.5h0.9M363.5,145.5h-0.9" stroke="#6e6e6e" stroke-width="0.5"/>
<text transform="translate(299.6,135.25) scale(0.88,1)" class="tk" style="font-size:6.8px" text-anchor="end">1</text>
<path d="M300.5,133h0.9M363.5,133h-0.9" stroke="#6e6e6e" stroke-width="0.5"/>
<text transform="translate(299.6,122.75) scale(0.88,1)" class="tk" style="font-size:6.8px" text-anchor="end">2</text>
<path d="M300.5,120.5h0.9M363.5,120.5h-0.9" stroke="#6e6e6e" stroke-width="0.5"/>
<text transform="translate(299.6,110.25) scale(0.88,1)" class="tk" style="font-size:6.8px" text-anchor="end">3</text>
<path d="M300.5,108h0.9M363.5,108h-0.9" stroke="#6e6e6e" stroke-width="0.5"/>
<text transform="translate(299.6,97.75) scale(0.88,1)" class="tk" style="font-size:6.8px" text-anchor="end">4</text>
<path d="M300.5,95.5h0.9M363.5,95.5h-0.9" stroke="#6e6e6e" stroke-width="0.5"/>
<path d="M306.82,145.5v-0.6M306.82,95.5v0.6M310.52,145.5v-0.6M310.52,95.5v0.6M313.14,145.5v-0.6M313.14,95.5v0.6M315.18,145.5v-0.6M315.18,95.5v0.6M316.84,145.5v-0.6M316.84,95.5v0.6M318.25,145.5v-0.6M318.25,95.5v0.6M319.46,145.5v-0.6M319.46,95.5v0.6M320.54,145.5v-0.6M320.54,95.5v0.6M327.82,145.5v-0.6M327.82,95.5v0.6M331.52,145.5v-0.6M331.52,95.5v0.6M334.14,145.5v-0.6M334.14,95.5v0.6M336.18,145.5v-0.6M336.18,95.5v0.6M337.84,145.5v-0.6M337.84,95.5v0.6M339.25,145.5v-0.6M339.25,95.5v0.6M340.46,145.5v-0.6M340.46,95.5v0.6M341.54,145.5v-0.6M341.54,95.5v0.6M348.82,145.5v-0.6M348.82,95.5v0.6M352.52,145.5v-0.6M352.52,95.5v0.6M355.14,145.5v-0.6M355.14,95.5v0.6M357.18,145.5v-0.6M357.18,95.5v0.6M358.84,145.5v-0.6M358.84,95.5v0.6M360.25,145.5v-0.6M360.25,95.5v0.6M361.46,145.5v-0.6M361.46,95.5v0.6M362.54,145.5v-0.6M362.54,95.5v0.6" stroke="#6e6e6e" stroke-width="0.4"/>
<text transform="translate(299.25,155.5) scale(0.75,1)" class="tk" style="font-size:7.2px" text-anchor="middle">10</text>
<text x="303.5" y="150.9" class="tk" style="font-size:4.9px" text-anchor="middle">0</text>
<path d="M321.5,145.5v-0.9M321.5,95.5v0.9" stroke="#6e6e6e" stroke-width="0.5"/>
<text transform="translate(320.25,155.5) scale(0.75,1)" class="tk" style="font-size:7.2px" text-anchor="middle">10</text>
<text x="324.5" y="150.9" class="tk" style="font-size:4.9px" text-anchor="middle">1</text>
<path d="M342.5,145.5v-0.9M342.5,95.5v0.9" stroke="#6e6e6e" stroke-width="0.5"/>
<text transform="translate(341.25,155.5) scale(0.75,1)" class="tk" style="font-size:7.2px" text-anchor="middle">10</text>
<text x="345.5" y="150.9" class="tk" style="font-size:4.9px" text-anchor="middle">2</text>
<text transform="translate(362.25,155.5) scale(0.75,1)" class="tk" style="font-size:7.2px" text-anchor="middle">10</text>
<text x="366.5" y="150.9" class="tk" style="font-size:4.9px" text-anchor="middle">3</text>
<text transform="translate(300.9,93.9) scale(0.95,1)" class="tk" style="font-size:7px">&#215;10<tspan dx="0.3" dy="-2.8" font-size="4.8">6</tspan></text>
<text x="332.8" y="93.6" class="tt" text-anchor="middle">C17-F9</text>
<text x="332.8" y="163.4" class="tt" style="font-size:8px" text-anchor="middle">Iterations</text>
<text transform="translate(293.3,119.5) scale(0.88,1) rotate(-90)" class="tt" text-anchor="middle">Best score obtained</text>
<clipPath id="c0_2"><rect x="21" y="177" width="66" height="53"/></clipPath>
<rect x="22.5" y="178.5" width="63" height="50" fill="#fff" stroke="#6e6e6e" stroke-width="0.8"/>
<g clip-path="url(#c0_2)" fill="none" stroke-linejoin="round" stroke-linecap="round">
<path d="M22.56,188.8 L30.96,201.59 L47.43,208.91 L84.89,210.37" stroke="#5a5aff" stroke-width="1.0"/>
<path d="M22.56,192.45 L29.14,203.42 L47.43,208.54 L84.89,207.99" stroke="#d27888" stroke-width="1.0"/>
<path d="M22.56,184.23 L27.31,184.78 L29.14,186.05 L30.96,190.63 L31.89,194.28 L38.29,201.59 L47.43,207.08 L84.89,209.82" stroke="#ffff5a" stroke-width="1.0"/>
<path d="M22.56,190.63 L26.41,197.94 L29.14,207.08 L38.29,207.44 L56.56,208.54 L84.89,209.82" stroke="#ff50ff" stroke-width="1.0"/>
<path d="M22.56,194.28 L29.14,199.77 L38.29,206.16 L47.43,210.73 L56.56,213.48 L65.7,214.39 L74.85,215.31 L84.89,219.88" stroke="#50f050" stroke-width="1.0"/>
<path d="M22.56,186.05 L29.14,190.63 L38.29,198.85 L47.43,205.25 L56.56,207.99 L65.7,212.56 L74.85,214.39 L84.89,220.79" stroke="#80d8ff" stroke-width="1.0"/>
<path d="M22.56,197.94 L30.96,203.42 L47.43,208.91 L84.89,210.73" stroke="#c4c4c4" stroke-width="1.0"/>
<path d="M22.56,181.48 L25.48,192.45 L30.96,203.42 L47.43,208.91 L84.89,210.73" stroke="#6a56cc" stroke-width="1.0"/>
<path d="M22.56,194.28 L29.14,196.11 L38.29,201.59 L47.43,206.16 L56.56,210.73 L65.7,215.31 L74.85,221.7 L80.33,227.19 L83.06,229.02" stroke="#ff8050" stroke-width="1.0"/>
<path d="M22.56,186.97 L25.48,196.11 L29.14,207.08 L84.89,208.91" stroke="#bb66dd" stroke-width="1.0"/>
<path d="M22.56,191.54 L27.31,201.59 L38.29,206.16 L56.56,208.54 L84.89,208.91" stroke="#ff7a7a" stroke-width="1.0"/>
<path d="M22.5,194.63 L85.5,194.63 L85.5,228.5" stroke="#e0b060" stroke-width="1.0"/>
<path d="M22.56,196.11 L29.14,202.51 L38.29,206.16 L47.43,208.54 L56.56,209.82 L65.7,210.73 L84.89,211.65" stroke="#e03c00" stroke-width="2.2"/>
</g>
<text transform="translate(21.6,180.75) scale(0.88,1)" class="tk" style="font-size:6.8px" text-anchor="end">10</text>
<path d="M22.5,178.5h0.9M85.5,178.5h-0.9" stroke="#6e6e6e" stroke-width="0.5"/>
<text transform="translate(21.6,196.88) scale(0.88,1)" class="tk" style="font-size:6.8px" text-anchor="end">0</text>
<path d="M22.5,194.63h0.9M85.5,194.63h-0.9" stroke="#6e6e6e" stroke-width="0.5"/>
<text transform="translate(21.6,213.01) scale(0.88,1)" class="tk" style="font-size:6.8px" text-anchor="end">-10</text>
<path d="M22.5,210.76h0.9M85.5,210.76h-0.9" stroke="#6e6e6e" stroke-width="0.5"/>
<text transform="translate(21.6,229.14) scale(0.88,1)" class="tk" style="font-size:6.8px" text-anchor="end">-20</text>
<path d="M22.5,226.89h0.9M85.5,226.89h-0.9" stroke="#6e6e6e" stroke-width="0.5"/>
<path d="M28.82,228.5v-0.6M28.82,178.5v0.6M32.52,228.5v-0.6M32.52,178.5v0.6M35.14,228.5v-0.6M35.14,178.5v0.6M37.18,228.5v-0.6M37.18,178.5v0.6M38.84,228.5v-0.6M38.84,178.5v0.6M40.25,228.5v-0.6M40.25,178.5v0.6M41.46,228.5v-0.6M41.46,178.5v0.6M42.54,228.5v-0.6M42.54,178.5v0.6M49.82,228.5v-0.6M49.82,178.5v0.6M53.52,228.5v-0.6M53.52,178.5v0.6M56.14,228.5v-0.6M56.14,178.5v0.6M58.18,228.5v-0.6M58.18,178.5v0.6M59.84,228.5v-0.6M59.84,178.5v0.6M61.25,228.5v-0.6M61.25,178.5v0.6M62.46,228.5v-0.6M62.46,178.5v0.6M63.54,228.5v-0.6M63.54,178.5v0.6M70.82,228.5v-0.6M70.82,178.5v0.6M74.52,228.5v-0.6M74.52,178.5v0.6M77.14,228.5v-0.6M77.14,178.5v0.6M79.18,228.5v-0.6M79.18,178.5v0.6M80.84,228.5v-0.6M80.84,178.5v0.6M82.25,228.5v-0.6M82.25,178.5v0.6M83.46,228.5v-0.6M83.46,178.5v0.6M84.54,228.5v-0.6M84.54,178.5v0.6" stroke="#6e6e6e" stroke-width="0.4"/>
<text transform="translate(21.25,238.5) scale(0.75,1)" class="tk" style="font-size:7.2px" text-anchor="middle">10</text>
<text x="25.5" y="233.9" class="tk" style="font-size:4.9px" text-anchor="middle">0</text>
<path d="M43.5,228.5v-0.9M43.5,178.5v0.9" stroke="#6e6e6e" stroke-width="0.5"/>
<text transform="translate(42.25,238.5) scale(0.75,1)" class="tk" style="font-size:7.2px" text-anchor="middle">10</text>
<text x="46.5" y="233.9" class="tk" style="font-size:4.9px" text-anchor="middle">1</text>
<path d="M64.5,228.5v-0.9M64.5,178.5v0.9" stroke="#6e6e6e" stroke-width="0.5"/>
<text transform="translate(63.25,238.5) scale(0.75,1)" class="tk" style="font-size:7.2px" text-anchor="middle">10</text>
<text x="67.5" y="233.9" class="tk" style="font-size:4.9px" text-anchor="middle">2</text>
<text transform="translate(84.25,238.5) scale(0.75,1)" class="tk" style="font-size:7.2px" text-anchor="middle">10</text>
<text x="88.5" y="233.9" class="tk" style="font-size:4.9px" text-anchor="middle">3</text>
<text x="54.8" y="176.6" class="tt" text-anchor="middle">C17-F10</text>
<text x="54.8" y="246.4" class="tt" style="font-size:8px" text-anchor="middle">Iterations</text>
<text transform="translate(10.2,202.5) scale(0.88,1) rotate(-90)" class="tt" text-anchor="middle">Best score obtained</text>
<clipPath id="c1_2"><rect x="114" y="177" width="66" height="53"/></clipPath>
<rect x="115.5" y="178.5" width="63" height="50" fill="#fff" stroke="#6e6e6e" stroke-width="0.8"/>
<g clip-path="url(#c1_2)" fill="none" stroke-linejoin="round" stroke-linecap="round">
<path d="M115.5,183.5 L121.8,228.5 L178.5,228.5" stroke="#5a5aff" stroke-width="1.0"/>
<path d="M115.5,183.5 L120.75,228.5" stroke="#d27888" stroke-width="1.0"/>
<path d="M115.5,183.5 L122.64,193 L126,199.75 L129.78,212.25 L133.77,228.12" stroke="#ffff5a" stroke-width="1.0"/>
<path d="M115.5,183.5 L118.65,222.25 L119.7,228.5" stroke="#ff50ff" stroke-width="1.0"/>
<path d="M115.5,183.25 L145.95,183.25 L149.1,187.25 L151.41,192.38 L156.03,194.75 L159.6,201 L162.75,213.5 L167.37,221 L170.94,228.12" stroke="#50f050" stroke-width="1.0"/>
<path d="M115.5,184 L145.95,184 L148.68,187.25 L154.98,191.5 L160.44,198.5 L165.9,207.88 L171.36,217.88 L175.14,228.12" stroke="#80d8ff" stroke-width="1.0"/>
<path d="M115.5,183.5 L121.8,228.5" stroke="#c4c4c4" stroke-width="1.0"/>
<path d="M115.5,183.5 L122.01,187.75 L131.25,193.25 L140.49,202.5 L145.95,211.62 L149.52,217.25 L158.76,223.12 L168,226.88 L173.25,228.25" stroke="#6a56cc" stroke-width="1.0"/>
<path d="M115.5,183.5 L122.22,193.25 L125.79,198.75 L129.36,211.62 L133.14,227.88" stroke="#ff8050" stroke-width="1.0"/>
<path d="M115.5,183.5 L119.7,216 L121.8,228.5" stroke="#bb66dd" stroke-width="1.0"/>
<path d="M115.5,183.5 L117.6,203.5 L119.7,228.5" stroke="#ff7a7a" stroke-width="1.0"/>
<path d="M115.5,228.5 L178.5,228.5" stroke="#e0b060" stroke-width="1.0"/>
<path d="M115.5,183.5 L119.7,203.5 L123.9,228.5 L178.5,228.5" stroke="#e03c00" stroke-width="2.2"/>
</g>
<text transform="translate(114.6,230.75) scale(0.88,1)" class="tk" style="font-size:6.8px" text-anchor="end">0</text>
<path d="M115.5,228.5h0.9M178.5,228.5h-0.9" stroke="#6e6e6e" stroke-width="0.5"/>
<text transform="translate(114.6,218.25) scale(0.88,1)" class="tk" style="font-size:6.8px" text-anchor="end">1</text>
<path d="M115.5,216h0.9M178.5,216h-0.9" stroke="#6e6e6e" stroke-width="0.5"/>
<text transform="translate(114.6,205.75) scale(0.88,1)" class="tk" style="font-size:6.8px" text-anchor="end">2</text>
<path d="M115.5,203.5h0.9M178.5,203.5h-0.9" stroke="#6e6e6e" stroke-width="0.5"/>
<text transform="translate(114.6,193.25) scale(0.88,1)" class="tk" style="font-size:6.8px" text-anchor="end">3</text>
<path d="M115.5,191h0.9M178.5,191h-0.9" stroke="#6e6e6e" stroke-width="0.5"/>
<text transform="translate(114.6,180.75) scale(0.88,1)" class="tk" style="font-size:6.8px" text-anchor="end">4</text>
<path d="M115.5,178.5h0.9M178.5,178.5h-0.9" stroke="#6e6e6e" stroke-width="0.5"/>
<path d="M121.82,228.5v-0.6M121.82,178.5v0.6M125.52,228.5v-0.6M125.52,178.5v0.6M128.14,228.5v-0.6M128.14,178.5v0.6M130.18,228.5v-0.6M130.18,178.5v0.6M131.84,228.5v-0.6M131.84,178.5v0.6M133.25,228.5v-0.6M133.25,178.5v0.6M134.46,228.5v-0.6M134.46,178.5v0.6M135.54,228.5v-0.6M135.54,178.5v0.6M142.82,228.5v-0.6M142.82,178.5v0.6M146.52,228.5v-0.6M146.52,178.5v0.6M149.14,228.5v-0.6M149.14,178.5v0.6M151.18,228.5v-0.6M151.18,178.5v0.6M152.84,228.5v-0.6M152.84,178.5v0.6M154.25,228.5v-0.6M154.25,178.5v0.6M155.46,228.5v-0.6M155.46,178.5v0.6M156.54,228.5v-0.6M156.54,178.5v0.6M163.82,228.5v-0.6M163.82,178.5v0.6M167.52,228.5v-0.6M167.52,178.5v0.6M170.14,228.5v-0.6M170.14,178.5v0.6M172.18,228.5v-0.6M172.18,178.5v0.6M173.84,228.5v-0.6M173.84,178.5v0.6M175.25,228.5v-0.6M175.25,178.5v0.6M176.46,228.5v-0.6M176.46,178.5v0.6M177.54,228.5v-0.6M177.54,178.5v0.6" stroke="#6e6e6e" stroke-width="0.4"/>
<text transform="translate(114.25,238.5) scale(0.75,1)" class="tk" style="font-size:7.2px" text-anchor="middle">10</text>
<text x="118.5" y="233.9" class="tk" style="font-size:4.9px" text-anchor="middle">0</text>
<path d="M136.5,228.5v-0.9M136.5,178.5v0.9" stroke="#6e6e6e" stroke-width="0.5"/>
<text transform="translate(135.25,238.5) scale(0.75,1)" class="tk" style="font-size:7.2px" text-anchor="middle">10</text>
<text x="139.5" y="233.9" class="tk" style="font-size:4.9px" text-anchor="middle">1</text>
<path d="M157.5,228.5v-0.9M157.5,178.5v0.9" stroke="#6e6e6e" stroke-width="0.5"/>
<text transform="translate(156.25,238.5) scale(0.75,1)" class="tk" style="font-size:7.2px" text-anchor="middle">10</text>
<text x="160.5" y="233.9" class="tk" style="font-size:4.9px" text-anchor="middle">2</text>
<text transform="translate(177.25,238.5) scale(0.75,1)" class="tk" style="font-size:7.2px" text-anchor="middle">10</text>
<text x="181.5" y="233.9" class="tk" style="font-size:4.9px" text-anchor="middle">3</text>
<text transform="translate(115.9,176.9) scale(0.95,1)" class="tk" style="font-size:7px">&#215;10<tspan dx="0.3" dy="-2.8" font-size="4.8">5</tspan></text>
<text x="147.8" y="176.6" class="tt" text-anchor="middle">C17-F11</text>
<text x="147.8" y="246.4" class="tt" style="font-size:8px" text-anchor="middle">Iterations</text>
<text transform="translate(108.3,202.5) scale(0.88,1) rotate(-90)" class="tt" text-anchor="middle">Best score obtained</text>
<clipPath id="c2_2"><rect x="206" y="177" width="66" height="53"/></clipPath>
<rect x="207.5" y="178.5" width="63" height="50" fill="#fff" stroke="#6e6e6e" stroke-width="0.8"/>
<g clip-path="url(#c2_2)" fill="none" stroke-linejoin="round" stroke-linecap="round">
<path d="M207.5,180.38 L223.25,184.75 L232.49,189.44 L241.52,194.75 L250.76,199.75 L260,204.75 L270.5,207.88" stroke="#5a5aff" stroke-width="1.0"/>
<path d="M207.5,180.38 L228.5,191 L241.1,206.62 L249.5,216 L260,220.69 L270.5,221.62" stroke="#d27888" stroke-width="1.0"/>
<path d="M207.5,180.38 L218,186.31 L223.25,195.69 L228.5,203.5 L236.9,204.44 L270.5,204.75" stroke="#ffff5a" stroke-width="1.0"/>
<path d="M207.5,180.06 L213.8,201.94 L224.3,204.44 L270.5,204.75" stroke="#ff50ff" stroke-width="1.0"/>
<path d="M207.5,180.06 L246.35,180.06 L252.65,186.31 L257.9,197.25 L262.1,210.38 L265.25,220.69 L270.5,222.56" stroke="#50f050" stroke-width="1.0"/>
<path d="M207.5,180.06 L242.15,180.06 L249.5,189.44 L256.85,198.81 L263.15,208.19 L269.45,223.81 L270.5,224.75" stroke="#80d8ff" stroke-width="1.0"/>
<path d="M207.5,180.38 L215.9,192.56 L223.25,201.94 L228.5,204.44 L270.5,205.06" stroke="#c4c4c4" stroke-width="1.0"/>
<path d="M207.5,180.38 L213.8,198.81 L220.1,203.5 L270.5,205.38" stroke="#6a56cc" stroke-width="1.0"/>
<path d="M207.5,180.38 L220.1,181.62 L228.5,182.56 L234.8,194.12 L243.2,201.94 L249.5,209.75 L260,217.56 L270.5,221.31" stroke="#ff8050" stroke-width="1.0"/>
<path d="M207.5,178.66 L270.5,178.66" stroke="#9630e6" stroke-width="1.6"/>
<path d="M207.5,180.38 L210.44,197.25 L213.8,203.19 L224.3,204.44 L270.5,205.06" stroke="#ff7a7a" stroke-width="1.0"/>
<path d="M207.5,228.5 L270.5,228.5" stroke="#e0b060" stroke-width="1.0"/>
<path d="M207.5,180.38 L210.44,187.88 L215.9,196 L223.25,202.41 L232.49,206.94 L241.52,210.69 L250.76,214.28 L260,217.88 L270.5,219.75" stroke="#e03c00" stroke-width="2.2"/>
</g>
<text transform="translate(206.6,230.75) scale(0.88,1)" class="tk" style="font-size:6.8px" text-anchor="end">0</text>
<path d="M207.5,228.5h0.9M270.5,228.5h-0.9" stroke="#6e6e6e" stroke-width="0.5"/>
<text transform="translate(206.6,215.12) scale(0.88,1)" class="tk" style="font-size:6.8px" text-anchor="end">5</text>
<path d="M207.5,212.88h0.9M270.5,212.88h-0.9" stroke="#6e6e6e" stroke-width="0.5"/>
<text transform="translate(206.6,199.5) scale(0.88,1)" class="tk" style="font-size:6.8px" text-anchor="end">10</text>
<path d="M207.5,197.25h0.9M270.5,197.25h-0.9" stroke="#6e6e6e" stroke-width="0.5"/>
<text transform="translate(206.6,183.88) scale(0.88,1)" class="tk" style="font-size:6.8px" text-anchor="end">15</text>
<path d="M207.5,181.62h0.9M270.5,181.62h-0.9" stroke="#6e6e6e" stroke-width="0.5"/>
<path d="M213.82,228.5v-0.6M213.82,178.5v0.6M217.52,228.5v-0.6M217.52,178.5v0.6M220.14,228.5v-0.6M220.14,178.5v0.6M222.18,228.5v-0.6M222.18,178.5v0.6M223.84,228.5v-0.6M223.84,178.5v0.6M225.25,228.5v-0.6M225.25,178.5v0.6M226.46,228.5v-0.6M226.46,178.5v0.6M227.54,228.5v-0.6M227.54,178.5v0.6M234.82,228.5v-0.6M234.82,178.5v0.6M238.52,228.5v-0.6M238.52,178.5v0.6M241.14,228.5v-0.6M241.14,178.5v0.6M243.18,228.5v-0.6M243.18,178.5v0.6M244.84,228.5v-0.6M244.84,178.5v0.6M246.25,228.5v-0.6M246.25,178.5v0.6M247.46,228.5v-0.6M247.46,178.5v0.6M248.54,228.5v-0.6M248.54,178.5v0.6M255.82,228.5v-0.6M255.82,178.5v0.6M259.52,228.5v-0.6M259.52,178.5v0.6M262.14,228.5v-0.6M262.14,178.5v0.6M264.18,228.5v-0.6M264.18,178.5v0.6M265.84,228.5v-0.6M265.84,178.5v0.6M267.25,228.5v-0.6M267.25,178.5v0.6M268.46,228.5v-0.6M268.46,178.5v0.6M269.54,228.5v-0.6M269.54,178.5v0.6" stroke="#6e6e6e" stroke-width="0.4"/>
<text transform="translate(206.25,238.5) scale(0.75,1)" class="tk" style="font-size:7.2px" text-anchor="middle">10</text>
<text x="210.5" y="233.9" class="tk" style="font-size:4.9px" text-anchor="middle">0</text>
<path d="M228.5,228.5v-0.9M228.5,178.5v0.9" stroke="#6e6e6e" stroke-width="0.5"/>
<text transform="translate(227.25,238.5) scale(0.75,1)" class="tk" style="font-size:7.2px" text-anchor="middle">10</text>
<text x="231.5" y="233.9" class="tk" style="font-size:4.9px" text-anchor="middle">1</text>
<path d="M249.5,228.5v-0.9M249.5,178.5v0.9" stroke="#6e6e6e" stroke-width="0.5"/>
<text transform="translate(248.25,238.5) scale(0.75,1)" class="tk" style="font-size:7.2px" text-anchor="middle">10</text>
<text x="252.5" y="233.9" class="tk" style="font-size:4.9px" text-anchor="middle">2</text>
<text transform="translate(269.25,238.5) scale(0.75,1)" class="tk" style="font-size:7.2px" text-anchor="middle">10</text>
<text x="273.5" y="233.9" class="tk" style="font-size:4.9px" text-anchor="middle">3</text>
<text transform="translate(207.9,176.9) scale(0.95,1)" class="tk" style="font-size:7px">&#215;10<tspan dx="0.3" dy="-2.8" font-size="4.8">6</tspan></text>
<text x="239.8" y="176.6" class="tt" text-anchor="middle">C17-F12</text>
<text x="239.8" y="246.4" class="tt" style="font-size:8px" text-anchor="middle">Iterations</text>
<text transform="translate(198.1,202.5) scale(0.88,1) rotate(-90)" class="tt" text-anchor="middle">Best score obtained</text>
<clipPath id="c3_2"><rect x="299" y="177" width="66" height="53"/></clipPath>
<rect x="300.5" y="178.5" width="63" height="50" fill="#fff" stroke="#6e6e6e" stroke-width="0.8"/>
<g clip-path="url(#c3_2)" fill="none" stroke-linejoin="round" stroke-linecap="round">
<path d="M300.56,193.28 L303.48,198.77 L307.14,207.91 L310.79,217.05 L314.44,221.62 L325.43,221.62 L352.85,221.98 L354.68,222.9 L358.33,223.45 L361.06,227.1 L362.89,227.1" stroke="#5a5aff" stroke-width="1.0"/>
<path d="M300.56,217.05 L305.31,220.7 L310.79,224.36 L362.89,226.92" stroke="#d27888" stroke-width="1.0"/>
<path d="M300.56,179.57 L301.65,185.97 L303.48,196.94 L306.23,207.91 L308.96,213.39 L312.62,214.85 L334.56,216.13 L362.89,217.96" stroke="#ffff5a" stroke-width="1.0"/>
<path d="M300.56,211.56 L307.14,217.05 L312.62,221.62 L319.95,222.9 L334.56,224.36 L362.89,226.19" stroke="#ff50ff" stroke-width="1.0"/>
<path d="M300.56,202.42 L305.31,211.56 L308.96,220.7 L312.62,224.36 L319.95,226.19 L362.89,227.1" stroke="#50f050" stroke-width="1.0"/>
<path d="M300.56,200.59 L305.31,209.73 L310.79,220.7 L316.29,225.27 L362.89,226.92" stroke="#80d8ff" stroke-width="1.0"/>
<path d="M300.56,207.91 L307.14,218.88 L314.44,224.36 L362.89,226.74" stroke="#c4c4c4" stroke-width="1.0"/>
<path d="M300.56,195.11 L305.31,206.08 L310.79,218.88 L316.29,224.36 L362.89,226.92" stroke="#6a56cc" stroke-width="1.0"/>
<path d="M300.56,200.59 L304.41,209.73 L308.96,218.88 L313.54,223.45 L362.89,226.74" stroke="#ff8050" stroke-width="1.0"/>
<path d="M300.56,198.4 L325.43,198.4 L326.88,200.05 L351.03,200.05 L351.38,227.1 L362.89,227.1" stroke="#bb66dd" stroke-width="1.0"/>
<path d="M300.56,220.7 L305.31,223.45 L308.96,226.19 L362.89,227.28" stroke="#ff7a7a" stroke-width="1.0"/>
<path d="M300.5,228.5 L363.5,228.5" stroke="#e0b060" stroke-width="1.0"/>
<path d="M300.56,212.48 L303.48,214.31 L307.14,217.05 L310.79,221.62 L316.29,224.73 L325.43,226.19 L362.89,227.28" stroke="#e03c00" stroke-width="2.2"/>
</g>
<text transform="translate(299.6,230.75) scale(0.88,1)" class="tk" style="font-size:6.8px" text-anchor="end">0</text>
<path d="M300.5,228.5h0.9M363.5,228.5h-0.9" stroke="#6e6e6e" stroke-width="0.5"/>
<text transform="translate(299.6,214.88) scale(0.88,1)" class="tk" style="font-size:6.8px" text-anchor="end">2</text>
<path d="M300.5,212.63h0.9M363.5,212.63h-0.9" stroke="#6e6e6e" stroke-width="0.5"/>
<text transform="translate(299.6,199) scale(0.88,1)" class="tk" style="font-size:6.8px" text-anchor="end">4</text>
<path d="M300.5,196.75h0.9M363.5,196.75h-0.9" stroke="#6e6e6e" stroke-width="0.5"/>
<text transform="translate(299.6,183.13) scale(0.88,1)" class="tk" style="font-size:6.8px" text-anchor="end">6</text>
<path d="M300.5,180.88h0.9M363.5,180.88h-0.9" stroke="#6e6e6e" stroke-width="0.5"/>
<path d="M306.82,228.5v-0.6M306.82,178.5v0.6M310.52,228.5v-0.6M310.52,178.5v0.6M313.14,228.5v-0.6M313.14,178.5v0.6M315.18,228.5v-0.6M315.18,178.5v0.6M316.84,228.5v-0.6M316.84,178.5v0.6M318.25,228.5v-0.6M318.25,178.5v0.6M319.46,228.5v-0.6M319.46,178.5v0.6M320.54,228.5v-0.6M320.54,178.5v0.6M327.82,228.5v-0.6M327.82,178.5v0.6M331.52,228.5v-0.6M331.52,178.5v0.6M334.14,228.5v-0.6M334.14,178.5v0.6M336.18,228.5v-0.6M336.18,178.5v0.6M337.84,228.5v-0.6M337.84,178.5v0.6M339.25,228.5v-0.6M339.25,178.5v0.6M340.46,228.5v-0.6M340.46,178.5v0.6M341.54,228.5v-0.6M341.54,178.5v0.6M348.82,228.5v-0.6M348.82,178.5v0.6M352.52,228.5v-0.6M352.52,178.5v0.6M355.14,228.5v-0.6M355.14,178.5v0.6M357.18,228.5v-0.6M357.18,178.5v0.6M358.84,228.5v-0.6M358.84,178.5v0.6M360.25,228.5v-0.6M360.25,178.5v0.6M361.46,228.5v-0.6M361.46,178.5v0.6M362.54,228.5v-0.6M362.54,178.5v0.6" stroke="#6e6e6e" stroke-width="0.4"/>
<text transform="translate(299.25,238.5) scale(0.75,1)" class="tk" style="font-size:7.2px" text-anchor="middle">10</text>
<text x="303.5" y="233.9" class="tk" style="font-size:4.9px" text-anchor="middle">0</text>
<path d="M321.5,228.5v-0.9M321.5,178.5v0.9" stroke="#6e6e6e" stroke-width="0.5"/>
<text transform="translate(320.25,238.5) scale(0.75,1)" class="tk" style="font-size:7.2px" text-anchor="middle">10</text>
<text x="324.5" y="233.9" class="tk" style="font-size:4.9px" text-anchor="middle">1</text>
<path d="M342.5,228.5v-0.9M342.5,178.5v0.9" stroke="#6e6e6e" stroke-width="0.5"/>
<text transform="translate(341.25,238.5) scale(0.75,1)" class="tk" style="font-size:7.2px" text-anchor="middle">10</text>
<text x="345.5" y="233.9" class="tk" style="font-size:4.9px" text-anchor="middle">2</text>
<text transform="translate(362.25,238.5) scale(0.75,1)" class="tk" style="font-size:7.2px" text-anchor="middle">10</text>
<text x="366.5" y="233.9" class="tk" style="font-size:4.9px" text-anchor="middle">3</text>
<text transform="translate(300.9,176.9) scale(0.95,1)" class="tk" style="font-size:7px">&#215;10<tspan dx="0.3" dy="-2.8" font-size="4.8">5</tspan></text>
<text x="332.8" y="176.6" class="tt" text-anchor="middle">C17-F13</text>
<text x="332.8" y="246.4" class="tt" style="font-size:8px" text-anchor="middle">Iterations</text>
<text transform="translate(293.3,202.5) scale(0.88,1) rotate(-90)" class="tt" text-anchor="middle">Best score obtained</text>
<clipPath id="c0_3"><rect x="21" y="260" width="66" height="53"/></clipPath>
<rect x="22.5" y="261.5" width="63" height="50" fill="#fff" stroke="#6e6e6e" stroke-width="0.8"/>
<g clip-path="url(#c0_3)" fill="none" stroke-linejoin="round" stroke-linecap="round">
<path d="M22.56,266.23 L25.48,274.45 L28.23,281.77 L30.06,292.74 L31.89,301.88 L34.62,306.45 L38.29,307.73 L84.89,309.19" stroke="#5a5aff" stroke-width="1.0"/>
<path d="M22.56,288.17 L27.31,296.39 L30.96,303.7 L34.62,307.54 L84.89,307.73" stroke="#d27888" stroke-width="1.0"/>
<path d="M22.56,294.56 L27.31,301.88 L30.96,306.45 L34.62,309.19 L84.89,309.92" stroke="#ffff5a" stroke-width="1.0"/>
<path d="M22.56,279.02 L25.48,285.42 L29.14,294.56 L31.89,303.7 L34.62,307.18 L84.89,307.18" stroke="#f08cf0" stroke-width="1.6"/>
<path d="M22.56,281.77 L26.41,289.08 L30.06,300.05 L32.79,306.45 L38.29,308.82 L84.89,309.19" stroke="#50f050" stroke-width="1.0"/>
<path d="M22.56,290.91 L27.31,298.22 L30.96,304.62 L34.62,308.27 L84.89,309.55" stroke="#80d8ff" stroke-width="1.0"/>
<path d="M22.56,289.08 L27.31,299.13 L30.96,305.17 L36.44,308.27 L84.89,309.55" stroke="#c4c4c4" stroke-width="1.0"/>
<path d="M22.56,292.74 L27.31,300.05 L30.96,305.53 L34.62,308.82 L84.89,309.92" stroke="#6a56cc" stroke-width="1.0"/>
<path d="M22.56,300.05 L27.31,304.62 L30.96,308.27 L34.62,309.74 L84.89,310.28" stroke="#ff8050" stroke-width="1.0"/>
<path d="M22.56,281.77 L27.31,292.74 L30.96,301.88 L34.62,306.81 L52.91,306.81 L54.73,307.36 L84.89,307.36" stroke="#bb66dd" stroke-width="1.0"/>
<path d="M22.56,305.53 L27.31,307.36 L30.96,309.19 L84.89,310.28" stroke="#ff7a7a" stroke-width="1.0"/>
<path d="M22.5,311.5 L85.5,311.5" stroke="#e0b060" stroke-width="1.0"/>
<path d="M22.56,300.96 L25.48,303.7 L29.14,307 L32.79,309.55 L36.44,310.47 L84.89,310.65" stroke="#e03c00" stroke-width="2.2"/>
</g>
<text transform="translate(21.6,313.75) scale(0.88,1)" class="tk" style="font-size:6.8px" text-anchor="end">0</text>
<path d="M22.5,311.5h0.9M85.5,311.5h-0.9" stroke="#6e6e6e" stroke-width="0.5"/>
<text transform="translate(21.6,297.08) scale(0.88,1)" class="tk" style="font-size:6.8px" text-anchor="end">1</text>
<path d="M22.5,294.83h0.9M85.5,294.83h-0.9" stroke="#6e6e6e" stroke-width="0.5"/>
<text transform="translate(21.6,280.42) scale(0.88,1)" class="tk" style="font-size:6.8px" text-anchor="end">2</text>
<path d="M22.5,278.17h0.9M85.5,278.17h-0.9" stroke="#6e6e6e" stroke-width="0.5"/>
<text transform="translate(21.6,263.75) scale(0.88,1)" class="tk" style="font-size:6.8px" text-anchor="end">3</text>
<path d="M22.5,261.5h0.9M85.5,261.5h-0.9" stroke="#6e6e6e" stroke-width="0.5"/>
<path d="M28.82,311.5v-0.6M28.82,261.5v0.6M32.52,311.5v-0.6M32.52,261.5v0.6M35.14,311.5v-0.6M35.14,261.5v0.6M37.18,311.5v-0.6M37.18,261.5v0.6M38.84,311.5v-0.6M38.84,261.5v0.6M40.25,311.5v-0.6M40.25,261.5v0.6M41.46,311.5v-0.6M41.46,261.5v0.6M42.54,311.5v-0.6M42.54,261.5v0.6M49.82,311.5v-0.6M49.82,261.5v0.6M53.52,311.5v-0.6M53.52,261.5v0.6M56.14,311.5v-0.6M56.14,261.5v0.6M58.18,311.5v-0.6M58.18,261.5v0.6M59.84,311.5v-0.6M59.84,261.5v0.6M61.25,311.5v-0.6M61.25,261.5v0.6M62.46,311.5v-0.6M62.46,261.5v0.6M63.54,311.5v-0.6M63.54,261.5v0.6M70.82,311.5v-0.6M70.82,261.5v0.6M74.52,311.5v-0.6M74.52,261.5v0.6M77.14,311.5v-0.6M77.14,261.5v0.6M79.18,311.5v-0.6M79.18,261.5v0.6M80.84,311.5v-0.6M80.84,261.5v0.6M82.25,311.5v-0.6M82.25,261.5v0.6M83.46,311.5v-0.6M83.46,261.5v0.6M84.54,311.5v-0.6M84.54,261.5v0.6" stroke="#6e6e6e" stroke-width="0.4"/>
<text transform="translate(21.25,321.5) scale(0.75,1)" class="tk" style="font-size:7.2px" text-anchor="middle">10</text>
<text x="25.5" y="316.9" class="tk" style="font-size:4.9px" text-anchor="middle">0</text>
<path d="M43.5,311.5v-0.9M43.5,261.5v0.9" stroke="#6e6e6e" stroke-width="0.5"/>
<text transform="translate(42.25,321.5) scale(0.75,1)" class="tk" style="font-size:7.2px" text-anchor="middle">10</text>
<text x="46.5" y="316.9" class="tk" style="font-size:4.9px" text-anchor="middle">1</text>
<path d="M64.5,311.5v-0.9M64.5,261.5v0.9" stroke="#6e6e6e" stroke-width="0.5"/>
<text transform="translate(63.25,321.5) scale(0.75,1)" class="tk" style="font-size:7.2px" text-anchor="middle">10</text>
<text x="67.5" y="316.9" class="tk" style="font-size:4.9px" text-anchor="middle">2</text>
<text transform="translate(84.25,321.5) scale(0.75,1)" class="tk" style="font-size:7.2px" text-anchor="middle">10</text>
<text x="88.5" y="316.9" class="tk" style="font-size:4.9px" text-anchor="middle">3</text>
<text transform="translate(22.9,259.9) scale(0.95,1)" class="tk" style="font-size:7px">&#215;10<tspan dx="0.3" dy="-2.8" font-size="4.8">6</tspan></text>
<text x="54.8" y="259.6" class="tt" text-anchor="middle">C17-F14</text>
<text x="54.8" y="329.4" class="tt" style="font-size:8px" text-anchor="middle">Iterations</text>
<text transform="translate(15.3,285.5) scale(0.88,1) rotate(-90)" class="tt" text-anchor="middle">Best score obtained</text>
<clipPath id="c1_3"><rect x="114" y="260" width="66" height="53"/></clipPath>
<rect x="115.5" y="261.5" width="63" height="50" fill="#fff" stroke="#6e6e6e" stroke-width="0.8"/>
<g clip-path="url(#c1_3)" fill="none" stroke-linejoin="round" stroke-linecap="round">
<path d="M115.56,276.65 L177.89,276.65" stroke="#8080ff" stroke-width="1.5"/>
<path d="M115.56,268.97 L118.48,271.71 L120.31,273.54 L122.14,285.42 L123.96,298.22 L127.62,307.36 L134.95,310.1 L177.89,310.47" stroke="#d27888" stroke-width="1.0"/>
<path d="M115.56,274.09 L120.31,274.45 L134.02,275.37 L135.85,276.28 L138.6,281.77 L140.43,289.08 L143.16,301.88 L144.98,309.19 L147.74,310.1 L177.89,310.47" stroke="#ffff5a" stroke-width="1.0"/>
<path d="M115.56,273.91 L177.89,273.91" stroke="#ff80ff" stroke-width="1.5"/>
<path d="M115.56,283.59 L118.48,300.05 L122.14,308.27 L125.79,310.1 L177.89,310.47" stroke="#50f050" stroke-width="1.0"/>
<path d="M115.56,264.4 L118.48,271.71 L122.14,285.42 L125.79,300.05 L131.29,308.27 L136.77,310.1 L177.89,310.47" stroke="#80d8ff" stroke-width="1.0"/>
<path d="M115.56,287.25 L120.31,301.88 L125.79,309.19 L177.89,310.47" stroke="#c4c4c4" stroke-width="1.0"/>
<path d="M115.56,292.74 L120.31,300.05 L123.96,307.36 L129.44,310.1 L177.89,310.47" stroke="#6a56cc" stroke-width="1.0"/>
<path d="M115.56,269.88 L118.48,270.8 L121.23,279.94 L123.06,294.56 L125.79,305.53 L131.29,309.19 L177.89,310.47" stroke="#ff8050" stroke-width="1.0"/>
<path d="M115.56,295.48 L122.14,297.85 L167.85,297.85 L168.21,302.79 L177.89,302.79" stroke="#bb66dd" stroke-width="1.0"/>
<path d="M115.56,300.96 L118.48,302.79 L122.14,305.53 L127.62,309.19 L177.89,310.47" stroke="#ff7a7a" stroke-width="1.0"/>
<path d="M115.5,311.5 L178.5,311.5" stroke="#e0b060" stroke-width="1.0"/>
<path d="M115.56,270.8 L117.58,281.77 L120.31,294.56 L123.06,303.7 L125.79,308.27 L131.29,310.1 L177.89,310.65" stroke="#e03c00" stroke-width="2.2"/>
</g>
<text transform="translate(114.6,313.75) scale(0.88,1)" class="tk" style="font-size:6.8px" text-anchor="end">0</text>
<path d="M115.5,311.5h0.9M178.5,311.5h-0.9" stroke="#6e6e6e" stroke-width="0.5"/>
<text transform="translate(114.6,297.08) scale(0.88,1)" class="tk" style="font-size:6.8px" text-anchor="end">5</text>
<path d="M115.5,294.83h0.9M178.5,294.83h-0.9" stroke="#6e6e6e" stroke-width="0.5"/>
<text transform="translate(114.6,280.42) scale(0.88,1)" class="tk" style="font-size:6.8px" text-anchor="end">10</text>
<path d="M115.5,278.17h0.9M178.5,278.17h-0.9" stroke="#6e6e6e" stroke-width="0.5"/>
<text transform="translate(114.6,263.75) scale(0.88,1)" class="tk" style="font-size:6.8px" text-anchor="end">15</text>
<path d="M115.5,261.5h0.9M178.5,261.5h-0.9" stroke="#6e6e6e" stroke-width="0.5"/>
<path d="M121.82,311.5v-0.6M121.82,261.5v0.6M125.52,311.5v-0.6M125.52,261.5v0.6M128.14,311.5v-0.6M128.14,261.5v0.6M130.18,311.5v-0.6M130.18,261.5v0.6M131.84,311.5v-0.6M131.84,261.5v0.6M133.25,311.5v-0.6M133.25,261.5v0.6M134.46,311.5v-0.6M134.46,261.5v0.6M135.54,311.5v-0.6M135.54,261.5v0.6M142.82,311.5v-0.6M142.82,261.5v0.6M146.52,311.5v-0.6M146.52,261.5v0.6M149.14,311.5v-0.6M149.14,261.5v0.6M151.18,311.5v-0.6M151.18,261.5v0.6M152.84,311.5v-0.6M152.84,261.5v0.6M154.25,311.5v-0.6M154.25,261.5v0.6M155.46,311.5v-0.6M155.46,261.5v0.6M156.54,311.5v-0.6M156.54,261.5v0.6M163.82,311.5v-0.6M163.82,261.5v0.6M167.52,311.5v-0.6M167.52,261.5v0.6M170.14,311.5v-0.6M170.14,261.5v0.6M172.18,311.5v-0.6M172.18,261.5v0.6M173.84,311.5v-0.6M173.84,261.5v0.6M175.25,311.5v-0.6M175.25,261.5v0.6M176.46,311.5v-0.6M176.46,261.5v0.6M177.54,311.5v-0.6M177.54,261.5v0.6" stroke="#6e6e6e" stroke-width="0.4"/>
<text transform="translate(114.25,321.5) scale(0.75,1)" class="tk" style="font-size:7.2px" text-anchor="middle">10</text>
<text x="118.5" y="316.9" class="tk" style="font-size:4.9px" text-anchor="middle">0</text>
<path d="M136.5,311.5v-0.9M136.5,261.5v0.9" stroke="#6e6e6e" stroke-width="0.5"/>
<text transform="translate(135.25,321.5) scale(0.75,1)" class="tk" style="font-size:7.2px" text-anchor="middle">10</text>
<text x="139.5" y="316.9" class="tk" style="font-size:4.9px" text-anchor="middle">1</text>
<path d="M157.5,311.5v-0.9M157.5,261.5v0.9" stroke="#6e6e6e" stroke-width="0.5"/>
<text transform="translate(156.25,321.5) scale(0.75,1)" class="tk" style="font-size:7.2px" text-anchor="middle">10</text>
<text x="160.5" y="316.9" class="tk" style="font-size:4.9px" text-anchor="middle">2</text>
<text transform="translate(177.25,321.5) scale(0.75,1)" class="tk" style="font-size:7.2px" text-anchor="middle">10</text>
<text x="181.5" y="316.9" class="tk" style="font-size:4.9px" text-anchor="middle">3</text>
<text transform="translate(115.9,259.9) scale(0.95,1)" class="tk" style="font-size:7px">&#215;10<tspan dx="0.3" dy="-2.8" font-size="4.8">4</tspan></text>
<text x="147.8" y="259.6" class="tt" text-anchor="middle">C17-F15</text>
<text x="147.8" y="329.4" class="tt" style="font-size:8px" text-anchor="middle">Iterations</text>
<text transform="translate(106.1,285.5) scale(0.88,1) rotate(-90)" class="tt" text-anchor="middle">Best score obtained</text>
<clipPath id="c2_3"><rect x="206" y="260" width="66" height="53"/></clipPath>
<rect x="207.5" y="261.5" width="63" height="50" fill="#fff" stroke="#6e6e6e" stroke-width="0.8"/>
<g clip-path="url(#c2_3)" fill="none" stroke-linejoin="round" stroke-linecap="round">
<path d="M207.56,271.16 L223.29,272.26 L269.89,272.26" stroke="#5a5aff" stroke-width="1.0"/>
<path d="M207.56,268.97 L269.89,268.97" stroke="#d27888" stroke-width="1.0"/>
<path d="M207.56,273.54 L238.81,273.91 L241.56,277.2 L244.31,285.42 L247.04,292.74 L250.7,297.31 L254.35,300.41 L258.03,301.51 L269.89,301.88" stroke="#ffff5a" stroke-width="1.0"/>
<path d="M207.56,266.23 L269.89,266.23" stroke="#ff50ff" stroke-width="1.4"/>
<path d="M207.56,276.28 L212.31,294.56 L215.96,305.53 L218.71,310.1 L269.89,310.28" stroke="#50f050" stroke-width="1.0"/>
<path d="M207.56,270.8 L212.31,285.42 L217.79,296.39 L223.29,303.7 L227.85,308.27 L230.6,310.1 L269.89,310.28" stroke="#80d8ff" stroke-width="1.0"/>
<path d="M207.56,278.11 L212.31,294.56 L217.79,307.36 L221.44,310.1 L269.89,310.28" stroke="#c4c4c4" stroke-width="1.0"/>
<path d="M207.56,263.48 L214.14,276.28 L219.62,287.25 L223.29,294.56 L226.95,301.88 L230.6,309.19 L269.89,310.28" stroke="#6a56cc" stroke-width="1.0"/>
<path d="M207.56,270.8 L219.62,271.16 L222.37,276.28 L224.19,294.56 L226.02,297.31 L227.85,299.13 L229.68,305.53 L231.5,310.1 L269.89,310.28" stroke="#ff8050" stroke-width="1.0"/>
<path d="M207.56,270.43 L258.03,270.43 L258.38,294.56 L259.48,300.05 L262.58,300.05 L263.51,310.1 L269.89,310.1" stroke="#bb66dd" stroke-width="1.0"/>
<path d="M207.56,281.77 L210.48,294.56 L213.23,305.53 L215.96,310.1 L269.89,310.28" stroke="#ff7a7a" stroke-width="1.0"/>
<path d="M207.5,311.5 L270.5,311.5" stroke="#e0b060" stroke-width="1.0"/>
<path d="M207.56,268.97 L210.48,278.11 L214.14,289.08 L217.79,300.05 L221.44,308.27 L225.12,310.47 L269.89,310.65" stroke="#e03c00" stroke-width="2.2"/>
</g>
<text transform="translate(206.6,313.75) scale(0.88,1)" class="tk" style="font-size:6.8px" text-anchor="end">0</text>
<path d="M207.5,311.5h0.9M270.5,311.5h-0.9" stroke="#6e6e6e" stroke-width="0.5"/>
<text transform="translate(206.6,291.02) scale(0.88,1)" class="tk" style="font-size:6.8px" text-anchor="end">5</text>
<path d="M207.5,288.77h0.9M270.5,288.77h-0.9" stroke="#6e6e6e" stroke-width="0.5"/>
<text transform="translate(206.6,268.3) scale(0.88,1)" class="tk" style="font-size:6.8px" text-anchor="end">10</text>
<path d="M207.5,266.05h0.9M270.5,266.05h-0.9" stroke="#6e6e6e" stroke-width="0.5"/>
<path d="M213.82,311.5v-0.6M213.82,261.5v0.6M217.52,311.5v-0.6M217.52,261.5v0.6M220.14,311.5v-0.6M220.14,261.5v0.6M222.18,311.5v-0.6M222.18,261.5v0.6M223.84,311.5v-0.6M223.84,261.5v0.6M225.25,311.5v-0.6M225.25,261.5v0.6M226.46,311.5v-0.6M226.46,261.5v0.6M227.54,311.5v-0.6M227.54,261.5v0.6M234.82,311.5v-0.6M234.82,261.5v0.6M238.52,311.5v-0.6M238.52,261.5v0.6M241.14,311.5v-0.6M241.14,261.5v0.6M243.18,311.5v-0.6M243.18,261.5v0.6M244.84,311.5v-0.6M244.84,261.5v0.6M246.25,311.5v-0.6M246.25,261.5v0.6M247.46,311.5v-0.6M247.46,261.5v0.6M248.54,311.5v-0.6M248.54,261.5v0.6M255.82,311.5v-0.6M255.82,261.5v0.6M259.52,311.5v-0.6M259.52,261.5v0.6M262.14,311.5v-0.6M262.14,261.5v0.6M264.18,311.5v-0.6M264.18,261.5v0.6M265.84,311.5v-0.6M265.84,261.5v0.6M267.25,311.5v-0.6M267.25,261.5v0.6M268.46,311.5v-0.6M268.46,261.5v0.6M269.54,311.5v-0.6M269.54,261.5v0.6" stroke="#6e6e6e" stroke-width="0.4"/>
<text transform="translate(206.25,321.5) scale(0.75,1)" class="tk" style="font-size:7.2px" text-anchor="middle">10</text>
<text x="210.5" y="316.9" class="tk" style="font-size:4.9px" text-anchor="middle">0</text>
<path d="M228.5,311.5v-0.9M228.5,261.5v0.9" stroke="#6e6e6e" stroke-width="0.5"/>
<text transform="translate(227.25,321.5) scale(0.75,1)" class="tk" style="font-size:7.2px" text-anchor="middle">10</text>
<text x="231.5" y="316.9" class="tk" style="font-size:4.9px" text-anchor="middle">1</text>
<path d="M249.5,311.5v-0.9M249.5,261.5v0.9" stroke="#6e6e6e" stroke-width="0.5"/>
<text transform="translate(248.25,321.5) scale(0.75,1)" class="tk" style="font-size:7.2px" text-anchor="middle">10</text>
<text x="252.5" y="316.9" class="tk" style="font-size:4.9px" text-anchor="middle">2</text>
<text transform="translate(269.25,321.5) scale(0.75,1)" class="tk" style="font-size:7.2px" text-anchor="middle">10</text>
<text x="273.5" y="316.9" class="tk" style="font-size:4.9px" text-anchor="middle">3</text>
<text transform="translate(207.9,259.9) scale(0.95,1)" class="tk" style="font-size:7px">&#215;10<tspan dx="0.3" dy="-2.8" font-size="4.8">7</tspan></text>
<text x="239.8" y="259.6" class="tt" text-anchor="middle">C17-F16</text>
<text x="239.8" y="329.4" class="tt" style="font-size:8px" text-anchor="middle">Iterations</text>
<text transform="translate(198.1,285.5) scale(0.88,1) rotate(-90)" class="tt" text-anchor="middle">Best score obtained</text>
<clipPath id="c3_3"><rect x="299" y="260" width="66" height="53"/></clipPath>
<rect x="300.5" y="261.5" width="63" height="50" fill="#fff" stroke="#6e6e6e" stroke-width="0.8"/>
<g clip-path="url(#c3_3)" fill="none" stroke-linejoin="round" stroke-linecap="round">
<path d="M300.5,276.33 L363.5,276.33" stroke="#5a5aff" stroke-width="1.0"/>
<path d="M300.5,278.17 L363.5,278.67" stroke="#d27888" stroke-width="1.0"/>
<path d="M300.5,269.83 L329.27,271.67 L334.52,274.83 L339.98,279.83 L345.44,284 L349.22,286.33 L363.5,286.67" stroke="#ffff5a" stroke-width="1.0"/>
<path d="M300.5,274.17 L363.5,274.17" stroke="#ff50ff" stroke-width="1.0"/>
<path d="M300.5,274.83 L316.25,281.83 L325.49,286.5 L334.52,285.67 L343.76,291.83 L353,296.5 L358.46,302.33 L363.5,310.67" stroke="#50f050" stroke-width="1.0"/>
<path d="M300.5,275.33 L312.68,281.83 L325.49,286.5 L343.76,293.17 L355.1,298.17 L360.35,307.33 L363.5,309.83" stroke="#80d8ff" stroke-width="1.0"/>
<path d="M300.5,278.17 L308.9,288.17 L313.1,291.83 L363.5,291.83" stroke="#c4c4c4" stroke-width="1.0"/>
<path d="M300.5,273.17 L312.68,285.33 L325.49,294.83 L334.52,303.67 L343.76,309 L353,310.17 L363.5,310.67" stroke="#6a56cc" stroke-width="1.0"/>
<path d="M300.5,280 L311,289.83 L321.5,295.67 L332,300.67 L343.76,306.5 L353,309.83 L363.5,310.67" stroke="#ff8050" stroke-width="1.0"/>
<path d="M300.5,279 L363.5,279" stroke="#a4309c" stroke-width="1.6"/>
<path d="M300.5,280 L307.22,290 L312.68,294.83 L315.2,297 L332,297 L343.76,299.83 L363.5,300" stroke="#ff7a7a" stroke-width="1.0"/>
<path d="M300.5,311.5 L363.5,311.5" stroke="#e0b060" stroke-width="1.0"/>
<path d="M300.5,275.33 L307.22,281.83 L312.68,287.33 L315.41,296.5 L318.14,302.83 L325.49,307.33 L334.52,309.83 L363.5,310.67" stroke="#e03c00" stroke-width="2.2"/>
</g>
<text transform="translate(299.6,313.75) scale(0.88,1)" class="tk" style="font-size:6.8px" text-anchor="end">0</text>
<path d="M300.5,311.5h0.9M363.5,311.5h-0.9" stroke="#6e6e6e" stroke-width="0.5"/>
<text transform="translate(299.6,297.08) scale(0.88,1)" class="tk" style="font-size:6.8px" text-anchor="end">1</text>
<path d="M300.5,294.83h0.9M363.5,294.83h-0.9" stroke="#6e6e6e" stroke-width="0.5"/>
<text transform="translate(299.6,280.42) scale(0.88,1)" class="tk" style="font-size:6.8px" text-anchor="end">2</text>
<path d="M300.5,278.17h0.9M363.5,278.17h-0.9" stroke="#6e6e6e" stroke-width="0.5"/>
<text transform="translate(299.6,263.75) scale(0.88,1)" class="tk" style="font-size:6.8px" text-anchor="end">3</text>
<path d="M300.5,261.5h0.9M363.5,261.5h-0.9" stroke="#6e6e6e" stroke-width="0.5"/>
<path d="M306.82,311.5v-0.6M306.82,261.5v0.6M310.52,311.5v-0.6M310.52,261.5v0.6M313.14,311.5v-0.6M313.14,261.5v0.6M315.18,311.5v-0.6M315.18,261.5v0.6M316.84,311.5v-0.6M316.84,261.5v0.6M318.25,311.5v-0.6M318.25,261.5v0.6M319.46,311.5v-0.6M319.46,261.5v0.6M320.54,311.5v-0.6M320.54,261.5v0.6M327.82,311.5v-0.6M327.82,261.5v0.6M331.52,311.5v-0.6M331.52,261.5v0.6M334.14,311.5v-0.6M334.14,261.5v0.6M336.18,311.5v-0.6M336.18,261.5v0.6M337.84,311.5v-0.6M337.84,261.5v0.6M339.25,311.5v-0.6M339.25,261.5v0.6M340.46,311.5v-0.6M340.46,261.5v0.6M341.54,311.5v-0.6M341.54,261.5v0.6M348.82,311.5v-0.6M348.82,261.5v0.6M352.52,311.5v-0.6M352.52,261.5v0.6M355.14,311.5v-0.6M355.14,261.5v0.6M357.18,311.5v-0.6M357.18,261.5v0.6M358.84,311.5v-0.6M358.84,261.5v0.6M360.25,311.5v-0.6M360.25,261.5v0.6M361.46,311.5v-0.6M361.46,261.5v0.6M362.54,311.5v-0.6M362.54,261.5v0.6" stroke="#6e6e6e" stroke-width="0.4"/>
<text transform="translate(299.25,321.5) scale(0.75,1)" class="tk" style="font-size:7.2px" text-anchor="middle">10</text>
<text x="303.5" y="316.9" class="tk" style="font-size:4.9px" text-anchor="middle">0</text>
<path d="M321.5,311.5v-0.9M321.5,261.5v0.9" stroke="#6e6e6e" stroke-width="0.5"/>
<text transform="translate(320.25,321.5) scale(0.75,1)" class="tk" style="font-size:7.2px" text-anchor="middle">10</text>
<text x="324.5" y="316.9" class="tk" style="font-size:4.9px" text-anchor="middle">1</text>
<path d="M342.5,311.5v-0.9M342.5,261.5v0.9" stroke="#6e6e6e" stroke-width="0.5"/>
<text transform="translate(341.25,321.5) scale(0.75,1)" class="tk" style="font-size:7.2px" text-anchor="middle">10</text>
<text x="345.5" y="316.9" class="tk" style="font-size:4.9px" text-anchor="middle">2</text>
<text transform="translate(362.25,321.5) scale(0.75,1)" class="tk" style="font-size:7.2px" text-anchor="middle">10</text>
<text x="366.5" y="316.9" class="tk" style="font-size:4.9px" text-anchor="middle">3</text>
<text transform="translate(300.9,259.9) scale(0.95,1)" class="tk" style="font-size:7px">&#215;10<tspan dx="0.3" dy="-2.8" font-size="4.8">10</tspan></text>
<text x="332.8" y="259.6" class="tt" text-anchor="middle">C17-F17</text>
<text x="332.8" y="329.4" class="tt" style="font-size:8px" text-anchor="middle">Iterations</text>
<text transform="translate(293.3,285.5) scale(0.88,1) rotate(-90)" class="tt" text-anchor="middle">Best score obtained</text>
<clipPath id="c0_4"><rect x="21" y="343" width="66" height="53"/></clipPath>
<rect x="22.5" y="344.5" width="63" height="50" fill="#fff" stroke="#6e6e6e" stroke-width="0.8"/>
<g clip-path="url(#c0_4)" fill="none" stroke-linejoin="round" stroke-linecap="round">
<path d="M22.56,349.23 L67.52,349.23 L71.18,350.14 L74.85,352.88 L78.51,354.71 L82.16,357.45 L84.89,362.94" stroke="#5a5aff" stroke-width="1.0"/>
<path d="M22.56,349.23 L84.89,349.23" stroke="#d27888" stroke-width="1.0"/>
<path d="M22.56,349.23 L29.14,349.23 L34.62,351.97 L38.29,357.45 L41.95,364.76 L47.43,373.91 L56.56,381.22 L65.7,387.62 L74.85,391.27 L84.89,392.56" stroke="#ffff5a" stroke-width="1.0"/>
<path d="M22.56,351.06 L27.31,351.06 L30.96,355.62 L36.44,359.28 L40.12,361.11 L47.43,366.6 L56.56,372.99 L65.7,377.56 L74.85,382.13 L82.16,385.24 L84.89,385.24" stroke="#ff50ff" stroke-width="1.0"/>
<path d="M22.56,354.71 L29.14,364.76 L34.62,373.91 L41.95,379.39 L52.91,384.88 L65.7,390.36 L84.89,392.56" stroke="#50f050" stroke-width="1.0"/>
<path d="M22.56,351.97 L29.14,355.62 L34.62,359.28 L41.95,368.42 L52.91,377.56 L65.7,384.88 L74.85,390.36 L84.89,392.19" stroke="#80d8ff" stroke-width="1.0"/>
<path d="M22.56,351.97 L29.14,368.42 L34.62,381.22 L41.95,384.88 L56.56,388.53 L84.89,391.27" stroke="#c4c4c4" stroke-width="1.0"/>
<path d="M22.56,351.97 L29.14,368.42 L34.62,381.22 L40.12,388.53 L47.43,392.19 L84.89,393.29" stroke="#6a56cc" stroke-width="1.0"/>
<path d="M22.56,376.65 L29.14,380.31 L34.62,384.88 L41.95,389.44 L84.89,390.36" stroke="#ff8050" stroke-width="1.0"/>
<path d="M22.56,357.09 L74.85,357.09 L76.68,357.82 L84.89,358.37" stroke="#bb66dd" stroke-width="1.0"/>
<path d="M22.56,348.31 L25.48,364.76 L27.31,377.56 L30.96,380.31 L38.29,386.7 L47.43,390.36 L84.89,390.36" stroke="#ff7a7a" stroke-width="1.0"/>
<path d="M22.5,394.5 L85.5,394.5" stroke="#e0b060" stroke-width="1.0"/>
<path d="M22.56,348.31 L27.31,364.76 L30.96,375.74 L34.62,383.05 L41.95,390.36 L49.25,393.1 L84.89,393.65" stroke="#e03c00" stroke-width="2.2"/>
</g>
<text transform="translate(21.6,396.75) scale(0.88,1)" class="tk" style="font-size:6.8px" text-anchor="end">0</text>
<path d="M22.5,394.5h0.9M85.5,394.5h-0.9" stroke="#6e6e6e" stroke-width="0.5"/>
<text transform="translate(21.6,384.25) scale(0.88,1)" class="tk" style="font-size:6.8px" text-anchor="end">0.5</text>
<path d="M22.5,382h0.9M85.5,382h-0.9" stroke="#6e6e6e" stroke-width="0.5"/>
<text transform="translate(21.6,371.75) scale(0.88,1)" class="tk" style="font-size:6.8px" text-anchor="end">1</text>
<path d="M22.5,369.5h0.9M85.5,369.5h-0.9" stroke="#6e6e6e" stroke-width="0.5"/>
<text transform="translate(21.6,359.25) scale(0.88,1)" class="tk" style="font-size:6.8px" text-anchor="end">1.5</text>
<path d="M22.5,357h0.9M85.5,357h-0.9" stroke="#6e6e6e" stroke-width="0.5"/>
<text transform="translate(21.6,346.75) scale(0.88,1)" class="tk" style="font-size:6.8px" text-anchor="end">2</text>
<path d="M22.5,344.5h0.9M85.5,344.5h-0.9" stroke="#6e6e6e" stroke-width="0.5"/>
<path d="M28.82,394.5v-0.6M28.82,344.5v0.6M32.52,394.5v-0.6M32.52,344.5v0.6M35.14,394.5v-0.6M35.14,344.5v0.6M37.18,394.5v-0.6M37.18,344.5v0.6M38.84,394.5v-0.6M38.84,344.5v0.6M40.25,394.5v-0.6M40.25,344.5v0.6M41.46,394.5v-0.6M41.46,344.5v0.6M42.54,394.5v-0.6M42.54,344.5v0.6M49.82,394.5v-0.6M49.82,344.5v0.6M53.52,394.5v-0.6M53.52,344.5v0.6M56.14,394.5v-0.6M56.14,344.5v0.6M58.18,394.5v-0.6M58.18,344.5v0.6M59.84,394.5v-0.6M59.84,344.5v0.6M61.25,394.5v-0.6M61.25,344.5v0.6M62.46,394.5v-0.6M62.46,344.5v0.6M63.54,394.5v-0.6M63.54,344.5v0.6M70.82,394.5v-0.6M70.82,344.5v0.6M74.52,394.5v-0.6M74.52,344.5v0.6M77.14,394.5v-0.6M77.14,344.5v0.6M79.18,394.5v-0.6M79.18,344.5v0.6M80.84,394.5v-0.6M80.84,344.5v0.6M82.25,394.5v-0.6M82.25,344.5v0.6M83.46,394.5v-0.6M83.46,344.5v0.6M84.54,394.5v-0.6M84.54,344.5v0.6" stroke="#6e6e6e" stroke-width="0.4"/>
<text transform="translate(21.25,404.5) scale(0.75,1)" class="tk" style="font-size:7.2px" text-anchor="middle">10</text>
<text x="25.5" y="399.9" class="tk" style="font-size:4.9px" text-anchor="middle">0</text>
<path d="M43.5,394.5v-0.9M43.5,344.5v0.9" stroke="#6e6e6e" stroke-width="0.5"/>
<text transform="translate(42.25,404.5) scale(0.75,1)" class="tk" style="font-size:7.2px" text-anchor="middle">10</text>
<text x="46.5" y="399.9" class="tk" style="font-size:4.9px" text-anchor="middle">1</text>
<path d="M64.5,394.5v-0.9M64.5,344.5v0.9" stroke="#6e6e6e" stroke-width="0.5"/>
<text transform="translate(63.25,404.5) scale(0.75,1)" class="tk" style="font-size:7.2px" text-anchor="middle">10</text>
<text x="67.5" y="399.9" class="tk" style="font-size:4.9px" text-anchor="middle">2</text>
<text transform="translate(84.25,404.5) scale(0.75,1)" class="tk" style="font-size:7.2px" text-anchor="middle">10</text>
<text x="88.5" y="399.9" class="tk" style="font-size:4.9px" text-anchor="middle">3</text>
<text transform="translate(22.9,342.9) scale(0.95,1)" class="tk" style="font-size:7px">&#215;10<tspan dx="0.3" dy="-2.8" font-size="4.8">8</tspan></text>
<text x="54.8" y="342.6" class="tt" text-anchor="middle">C17-F18</text>
<text x="54.8" y="412.4" class="tt" style="font-size:8px" text-anchor="middle">Iterations</text>
<text transform="translate(10.9,368.5) scale(0.88,1) rotate(-90)" class="tt" text-anchor="middle">Best score obtained</text>
<clipPath id="c1_4"><rect x="114" y="343" width="66" height="53"/></clipPath>
<rect x="115.5" y="344.5" width="63" height="50" fill="#fff" stroke="#6e6e6e" stroke-width="0.8"/>
<g clip-path="url(#c1_4)" fill="none" stroke-linejoin="round" stroke-linecap="round">
<path d="M115.5,344.75 L162.33,344.75 L168,348.25 L171.78,352 L175.56,357 L178.5,362.5" stroke="#5a5aff" stroke-width="1.0"/>
<path d="M115.5,348.25 L121.8,348.25 L122.85,350.75 L178.5,351" stroke="#d27888" stroke-width="1.0"/>
<path d="M115.5,348.25 L122.22,350.75 L127.68,357 L134.82,364.75 L144.27,374.75 L153.3,383 L162.33,388.5 L168,390.25 L178.5,390.75" stroke="#ffff5a" stroke-width="1.0"/>
<path d="M115.5,349.5 L121.8,355.75 L123.9,359.25 L131.25,360 L140.49,364 L145.95,369.5 L153.3,373.75 L158.76,376.5 L168,380.25 L174.3,384.75 L178.5,384.75" stroke="#ff50ff" stroke-width="1.0"/>
<path d="M115.5,355.75 L122.22,367 L131.25,377 L140.49,382.75 L149.52,385.25 L162.33,388.5 L178.5,390.75" stroke="#50f050" stroke-width="1.0"/>
<path d="M115.5,350.75 L123.9,359.5 L131.25,363.25 L138.6,373.25 L145.95,380.75 L153.3,385.75 L163.8,389.5 L178.5,392" stroke="#80d8ff" stroke-width="1.0"/>
<path d="M115.5,354.5 L120.33,369.5 L123.9,374.5 L131.25,380.25 L140.49,382 L157.5,387 L178.5,389.5" stroke="#c4c4c4" stroke-width="1.0"/>
<path d="M115.5,349.5 L123.9,359.5 L127.68,370.75 L131.25,379.5 L134.82,383.25 L140.7,387 L157.5,392 L178.5,393.25" stroke="#6a56cc" stroke-width="1.0"/>
<path d="M115.5,376.5 L122.22,382 L129.36,387.5 L136.5,389.5 L178.5,390.75" stroke="#ff8050" stroke-width="1.0"/>
<path d="M115.5,351.5 L163.8,351.5 L165.9,354.5 L169.05,355.75 L172.2,357 L176.4,359.5 L178.5,362" stroke="#bb66dd" stroke-width="1.0"/>
<path d="M115.5,351 L120.33,377.5 L123.9,380.75 L132.3,387 L140.49,390.25 L178.5,390.25" stroke="#ff7a7a" stroke-width="1.0"/>
<path d="M115.5,394.5 L178.5,394.5" stroke="#e0b060" stroke-width="1.0"/>
<path d="M115.5,351 L118.86,368.5 L120.33,377.5 L123.9,380.25 L127.68,383 L133.14,388.5 L140.49,391.5 L149.52,393.25 L178.5,393.75" stroke="#e03c00" stroke-width="2.2"/>
</g>
<text transform="translate(114.6,396.75) scale(0.88,1)" class="tk" style="font-size:6.8px" text-anchor="end">0</text>
<path d="M115.5,394.5h0.9M178.5,394.5h-0.9" stroke="#6e6e6e" stroke-width="0.5"/>
<text transform="translate(114.6,384.25) scale(0.88,1)" class="tk" style="font-size:6.8px" text-anchor="end">0.5</text>
<path d="M115.5,382h0.9M178.5,382h-0.9" stroke="#6e6e6e" stroke-width="0.5"/>
<text transform="translate(114.6,371.75) scale(0.88,1)" class="tk" style="font-size:6.8px" text-anchor="end">1</text>
<path d="M115.5,369.5h0.9M178.5,369.5h-0.9" stroke="#6e6e6e" stroke-width="0.5"/>
<text transform="translate(114.6,359.25) scale(0.88,1)" class="tk" style="font-size:6.8px" text-anchor="end">1.5</text>
<path d="M115.5,357h0.9M178.5,357h-0.9" stroke="#6e6e6e" stroke-width="0.5"/>
<text transform="translate(114.6,346.75) scale(0.88,1)" class="tk" style="font-size:6.8px" text-anchor="end">2</text>
<path d="M115.5,344.5h0.9M178.5,344.5h-0.9" stroke="#6e6e6e" stroke-width="0.5"/>
<path d="M121.82,394.5v-0.6M121.82,344.5v0.6M125.52,394.5v-0.6M125.52,344.5v0.6M128.14,394.5v-0.6M128.14,344.5v0.6M130.18,394.5v-0.6M130.18,344.5v0.6M131.84,394.5v-0.6M131.84,344.5v0.6M133.25,394.5v-0.6M133.25,344.5v0.6M134.46,394.5v-0.6M134.46,344.5v0.6M135.54,394.5v-0.6M135.54,344.5v0.6M142.82,394.5v-0.6M142.82,344.5v0.6M146.52,394.5v-0.6M146.52,344.5v0.6M149.14,394.5v-0.6M149.14,344.5v0.6M151.18,394.5v-0.6M151.18,344.5v0.6M152.84,394.5v-0.6M152.84,344.5v0.6M154.25,394.5v-0.6M154.25,344.5v0.6M155.46,394.5v-0.6M155.46,344.5v0.6M156.54,394.5v-0.6M156.54,344.5v0.6M163.82,394.5v-0.6M163.82,344.5v0.6M167.52,394.5v-0.6M167.52,344.5v0.6M170.14,394.5v-0.6M170.14,344.5v0.6M172.18,394.5v-0.6M172.18,344.5v0.6M173.84,394.5v-0.6M173.84,344.5v0.6M175.25,394.5v-0.6M175.25,344.5v0.6M176.46,394.5v-0.6M176.46,344.5v0.6M177.54,394.5v-0.6M177.54,344.5v0.6" stroke="#6e6e6e" stroke-width="0.4"/>
<text transform="translate(114.25,404.5) scale(0.75,1)" class="tk" style="font-size:7.2px" text-anchor="middle">10</text>
<text x="118.5" y="399.9" class="tk" style="font-size:4.9px" text-anchor="middle">0</text>
<path d="M136.5,394.5v-0.9M136.5,344.5v0.9" stroke="#6e6e6e" stroke-width="0.5"/>
<text transform="translate(135.25,404.5) scale(0.75,1)" class="tk" style="font-size:7.2px" text-anchor="middle">10</text>
<text x="139.5" y="399.9" class="tk" style="font-size:4.9px" text-anchor="middle">1</text>
<path d="M157.5,394.5v-0.9M157.5,344.5v0.9" stroke="#6e6e6e" stroke-width="0.5"/>
<text transform="translate(156.25,404.5) scale(0.75,1)" class="tk" style="font-size:7.2px" text-anchor="middle">10</text>
<text x="160.5" y="399.9" class="tk" style="font-size:4.9px" text-anchor="middle">2</text>
<text transform="translate(177.25,404.5) scale(0.75,1)" class="tk" style="font-size:7.2px" text-anchor="middle">10</text>
<text x="181.5" y="399.9" class="tk" style="font-size:4.9px" text-anchor="middle">3</text>
<text transform="translate(115.9,342.9) scale(0.95,1)" class="tk" style="font-size:7px">&#215;10<tspan dx="0.3" dy="-2.8" font-size="4.8">8</tspan></text>
<text x="147.8" y="342.6" class="tt" text-anchor="middle">C17-F19</text>
<text x="147.8" y="412.4" class="tt" style="font-size:8px" text-anchor="middle">Iterations</text>
<text transform="translate(103.9,368.5) scale(0.88,1) rotate(-90)" class="tt" text-anchor="middle">Best score obtained</text>
<clipPath id="c2_4"><rect x="206" y="343" width="66" height="53"/></clipPath>
<rect x="207.5" y="344.5" width="63" height="50" fill="#fff" stroke="#6e6e6e" stroke-width="0.8"/>
<g clip-path="url(#c2_4)" fill="none" stroke-linejoin="round" stroke-linecap="round">
<path d="M207.5,347.5 L246.98,347.5 L252.44,349.5 L260,353 L265.46,357 L270.5,362" stroke="#5a5aff" stroke-width="1.0"/>
<path d="M207.5,345.5 L270.5,345.5" stroke="#d27888" stroke-width="1.0"/>
<path d="M207.5,356.5 L215.9,357.5 L223.25,362 L228.71,368.5 L234.38,374 L241.52,381.25 L250.76,387.5 L260,390.25 L270.5,391" stroke="#ffff5a" stroke-width="1.0"/>
<path d="M207.5,352.25 L214.22,352.25 L219.68,354.75 L225.14,359.25 L232.49,369.5 L241.52,375 L250.76,379.5 L260,383.25 L270.5,386.5" stroke="#ff50ff" stroke-width="1.0"/>
<path d="M207.5,358.25 L214.22,369.5 L223.25,377 L232.49,383.25 L241.52,385.75 L260,390.25 L270.5,391.5" stroke="#50f050" stroke-width="1.0"/>
<path d="M207.5,356.5 L215.9,359.5 L223.25,365.75 L232.49,372 L241.52,378.25 L250.76,383.25 L260,387 L270.5,387.75" stroke="#80d8ff" stroke-width="1.0"/>
<path d="M207.5,359.5 L215.9,372 L223.25,377 L232.49,382 L241.52,384 L253.7,387 L270.5,389.5" stroke="#c4c4c4" stroke-width="1.0"/>
<path d="M207.5,356.5 L214.22,369.5 L219.68,377 L225.14,383.25 L230.6,387.5 L241.1,390.75 L270.5,392.5" stroke="#6a56cc" stroke-width="1.0"/>
<path d="M207.5,375.75 L214.22,379.5 L219.68,383.25 L225.14,387 L232.7,389.5 L270.5,391.5" stroke="#ff8050" stroke-width="1.0"/>
<path d="M207.5,355.25 L270.5,355.25" stroke="#bb66dd" stroke-width="1.0"/>
<path d="M207.5,354.75 L212.33,375.75 L218,382 L228.5,389 L236.9,390.25 L270.5,390.25" stroke="#ff7a7a" stroke-width="1.0"/>
<path d="M207.5,394.5 L270.5,394.5" stroke="#e0b060" stroke-width="1.0"/>
<path d="M207.5,354.75 L210.65,366.5 L214.22,374.75 L219.68,383 L225.14,388.5 L232.49,392 L241.52,393.25 L270.5,393.75" stroke="#e03c00" stroke-width="2.2"/>
</g>
<text transform="translate(206.6,396.75) scale(0.88,1)" class="tk" style="font-size:6.8px" text-anchor="end">0</text>
<path d="M207.5,394.5h0.9M270.5,394.5h-0.9" stroke="#6e6e6e" stroke-width="0.5"/>
<text transform="translate(206.6,384.25) scale(0.88,1)" class="tk" style="font-size:6.8px" text-anchor="end">0.5</text>
<path d="M207.5,382h0.9M270.5,382h-0.9" stroke="#6e6e6e" stroke-width="0.5"/>
<text transform="translate(206.6,371.75) scale(0.88,1)" class="tk" style="font-size:6.8px" text-anchor="end">1</text>
<path d="M207.5,369.5h0.9M270.5,369.5h-0.9" stroke="#6e6e6e" stroke-width="0.5"/>
<text transform="translate(206.6,359.25) scale(0.88,1)" class="tk" style="font-size:6.8px" text-anchor="end">1.5</text>
<path d="M207.5,357h0.9M270.5,357h-0.9" stroke="#6e6e6e" stroke-width="0.5"/>
<text transform="translate(206.6,346.75) scale(0.88,1)" class="tk" style="font-size:6.8px" text-anchor="end">2</text>
<path d="M207.5,344.5h0.9M270.5,344.5h-0.9" stroke="#6e6e6e" stroke-width="0.5"/>
<path d="M213.82,394.5v-0.6M213.82,344.5v0.6M217.52,394.5v-0.6M217.52,344.5v0.6M220.14,394.5v-0.6M220.14,344.5v0.6M222.18,394.5v-0.6M222.18,344.5v0.6M223.84,394.5v-0.6M223.84,344.5v0.6M225.25,394.5v-0.6M225.25,344.5v0.6M226.46,394.5v-0.6M226.46,344.5v0.6M227.54,394.5v-0.6M227.54,344.5v0.6M234.82,394.5v-0.6M234.82,344.5v0.6M238.52,394.5v-0.6M238.52,344.5v0.6M241.14,394.5v-0.6M241.14,344.5v0.6M243.18,394.5v-0.6M243.18,344.5v0.6M244.84,394.5v-0.6M244.84,344.5v0.6M246.25,394.5v-0.6M246.25,344.5v0.6M247.46,394.5v-0.6M247.46,344.5v0.6M248.54,394.5v-0.6M248.54,344.5v0.6M255.82,394.5v-0.6M255.82,344.5v0.6M259.52,394.5v-0.6M259.52,344.5v0.6M262.14,394.5v-0.6M262.14,344.5v0.6M264.18,394.5v-0.6M264.18,344.5v0.6M265.84,394.5v-0.6M265.84,344.5v0.6M267.25,394.5v-0.6M267.25,344.5v0.6M268.46,394.5v-0.6M268.46,344.5v0.6M269.54,394.5v-0.6M269.54,344.5v0.6" stroke="#6e6e6e" stroke-width="0.4"/>
<text transform="translate(206.25,404.5) scale(0.75,1)" class="tk" style="font-size:7.2px" text-anchor="middle">10</text>
<text x="210.5" y="399.9" class="tk" style="font-size:4.9px" text-anchor="middle">0</text>
<path d="M228.5,394.5v-0.9M228.5,344.5v0.9" stroke="#6e6e6e" stroke-width="0.5"/>
<text transform="translate(227.25,404.5) scale(0.75,1)" class="tk" style="font-size:7.2px" text-anchor="middle">10</text>
<text x="231.5" y="399.9" class="tk" style="font-size:4.9px" text-anchor="middle">1</text>
<path d="M249.5,394.5v-0.9M249.5,344.5v0.9" stroke="#6e6e6e" stroke-width="0.5"/>
<text transform="translate(248.25,404.5) scale(0.75,1)" class="tk" style="font-size:7.2px" text-anchor="middle">10</text>
<text x="252.5" y="399.9" class="tk" style="font-size:4.9px" text-anchor="middle">2</text>
<text transform="translate(269.25,404.5) scale(0.75,1)" class="tk" style="font-size:7.2px" text-anchor="middle">10</text>
<text x="273.5" y="399.9" class="tk" style="font-size:4.9px" text-anchor="middle">3</text>
<text transform="translate(207.9,342.9) scale(0.95,1)" class="tk" style="font-size:7px">&#215;10<tspan dx="0.3" dy="-2.8" font-size="4.8">8</tspan></text>
<text x="239.8" y="342.6" class="tt" text-anchor="middle">C17-F20</text>
<text x="239.8" y="412.4" class="tt" style="font-size:8px" text-anchor="middle">Iterations</text>
<text transform="translate(195.9,368.5) scale(0.88,1) rotate(-90)" class="tt" text-anchor="middle">Best score obtained</text>
<clipPath id="c3_4"><rect x="299" y="343" width="66" height="53"/></clipPath>
<rect x="300.5" y="344.5" width="63" height="50" fill="#fff" stroke="#6e6e6e" stroke-width="0.8"/>
<g clip-path="url(#c3_4)" fill="none" stroke-linejoin="round" stroke-linecap="round">
<path d="M300.5,362.5 L363.5,362.5" stroke="#5a5aff" stroke-width="1.0"/>
<path d="M300.5,353.67 L362.03,353.67 L362.66,361.83 L363.5,362.5" stroke="#d27888" stroke-width="1.0"/>
<path d="M300.5,358.5 L308.9,364.5 L316.25,369.17 L325.7,372.5 L334.52,374.5 L343.76,377.17 L353,378.5 L363.5,379.5" stroke="#ffff5a" stroke-width="1.0"/>
<path d="M300.5,350.5 L363.5,350.5" stroke="#ff50ff" stroke-width="1.0"/>
<path d="M300.5,359.5 L308.9,363.83 L316.25,369.83 L325.7,372.5 L334.52,375.83 L344.6,378.5 L353,380.5 L363.5,384.83" stroke="#50f050" stroke-width="1.0"/>
<path d="M300.5,361.17 L311,365.17 L321.5,370.5 L334.1,375.17 L346.7,377.83 L363.5,381.17" stroke="#80d8ff" stroke-width="1.0"/>
<path d="M300.5,362.83 L311,366.17 L321.5,371.83 L338.3,377.17 L353,379.83 L363.5,381.83" stroke="#c4c4c4" stroke-width="1.0"/>
<path d="M300.5,357.17 L308.9,363.83 L316.25,369.83 L323.6,371.83 L332,373.83 L340.4,377.17 L348.8,381.17 L363.5,383.17" stroke="#6a56cc" stroke-width="1.0"/>
<path d="M300.5,362.83 L311,367.83 L321.5,372.83 L332,377.17 L342.5,378.5 L353,379.5 L363.5,381.17" stroke="#ff8050" stroke-width="1.0"/>
<path d="M300.5,354 L362.03,354 L362.66,362.17 L363.5,362.83" stroke="#a4309c" stroke-width="1.5"/>
<path d="M300.5,372.17 L308.9,374.83 L316.25,375.83 L325.49,377.5 L338.3,379.5 L348.8,381.83 L357.2,386.17 L363.5,389.5" stroke="#ff7a7a" stroke-width="1.0"/>
<path d="M300.5,394.5 L363.5,394.5" stroke="#e0b060" stroke-width="1.0"/>
<path d="M300.5,351 L303.44,356.5 L307.22,362 L312.68,366.6 L316.25,370.3 L321.71,373 L324.44,377.6 L327.17,378.17 L332.63,383 L339.98,385.83 L353,387.6 L363.5,388" stroke="#e03c00" stroke-width="2.2"/>
</g>
<text transform="translate(299.6,396.75) scale(0.88,1)" class="tk" style="font-size:6.8px" text-anchor="end">0</text>
<path d="M300.5,394.5h0.9M363.5,394.5h-0.9" stroke="#6e6e6e" stroke-width="0.5"/>
<text transform="translate(299.6,380.08) scale(0.88,1)" class="tk" style="font-size:6.8px" text-anchor="end">50</text>
<path d="M300.5,377.83h0.9M363.5,377.83h-0.9" stroke="#6e6e6e" stroke-width="0.5"/>
<text transform="translate(299.6,363.42) scale(0.88,1)" class="tk" style="font-size:6.8px" text-anchor="end">100</text>
<path d="M300.5,361.17h0.9M363.5,361.17h-0.9" stroke="#6e6e6e" stroke-width="0.5"/>
<text transform="translate(299.6,346.75) scale(0.88,1)" class="tk" style="font-size:6.8px" text-anchor="end">150</text>
<path d="M300.5,344.5h0.9M363.5,344.5h-0.9" stroke="#6e6e6e" stroke-width="0.5"/>
<path d="M306.82,394.5v-0.6M306.82,344.5v0.6M310.52,394.5v-0.6M310.52,344.5v0.6M313.14,394.5v-0.6M313.14,344.5v0.6M315.18,394.5v-0.6M315.18,344.5v0.6M316.84,394.5v-0.6M316.84,344.5v0.6M318.25,394.5v-0.6M318.25,344.5v0.6M319.46,394.5v-0.6M319.46,344.5v0.6M320.54,394.5v-0.6M320.54,344.5v0.6M327.82,394.5v-0.6M327.82,344.5v0.6M331.52,394.5v-0.6M331.52,344.5v0.6M334.14,394.5v-0.6M334.14,344.5v0.6M336.18,394.5v-0.6M336.18,344.5v0.6M337.84,394.5v-0.6M337.84,344.5v0.6M339.25,394.5v-0.6M339.25,344.5v0.6M340.46,394.5v-0.6M340.46,344.5v0.6M341.54,394.5v-0.6M341.54,344.5v0.6M348.82,394.5v-0.6M348.82,344.5v0.6M352.52,394.5v-0.6M352.52,344.5v0.6M355.14,394.5v-0.6M355.14,344.5v0.6M357.18,394.5v-0.6M357.18,344.5v0.6M358.84,394.5v-0.6M358.84,344.5v0.6M360.25,394.5v-0.6M360.25,344.5v0.6M361.46,394.5v-0.6M361.46,344.5v0.6M362.54,394.5v-0.6M362.54,344.5v0.6" stroke="#6e6e6e" stroke-width="0.4"/>
<text transform="translate(299.25,404.5) scale(0.75,1)" class="tk" style="font-size:7.2px" text-anchor="middle">10</text>
<text x="303.5" y="399.9" class="tk" style="font-size:4.9px" text-anchor="middle">0</text>
<path d="M321.5,394.5v-0.9M321.5,344.5v0.9" stroke="#6e6e6e" stroke-width="0.5"/>
<text transform="translate(320.25,404.5) scale(0.75,1)" class="tk" style="font-size:7.2px" text-anchor="middle">10</text>
<text x="324.5" y="399.9" class="tk" style="font-size:4.9px" text-anchor="middle">1</text>
<path d="M342.5,394.5v-0.9M342.5,344.5v0.9" stroke="#6e6e6e" stroke-width="0.5"/>
<text transform="translate(341.25,404.5) scale(0.75,1)" class="tk" style="font-size:7.2px" text-anchor="middle">10</text>
<text x="345.5" y="399.9" class="tk" style="font-size:4.9px" text-anchor="middle">2</text>
<text transform="translate(362.25,404.5) scale(0.75,1)" class="tk" style="font-size:7.2px" text-anchor="middle">10</text>
<text x="366.5" y="399.9" class="tk" style="font-size:4.9px" text-anchor="middle">3</text>
<text x="332.8" y="342.6" class="tt" text-anchor="middle">C17-F21</text>
<text x="332.8" y="412.4" class="tt" style="font-size:8px" text-anchor="middle">Iterations</text>
<text transform="translate(287.1,368.5) scale(0.88,1) rotate(-90)" class="tt" text-anchor="middle">Best score obtained</text>
<clipPath id="c0_5"><rect x="21" y="426" width="66" height="53"/></clipPath>
<rect x="22.5" y="427.5" width="63" height="50" fill="#fff" stroke="#6e6e6e" stroke-width="0.8"/>
<g clip-path="url(#c0_5)" fill="none" stroke-linejoin="round" stroke-linecap="round">
<path d="M22.56,443.2 L30.96,451.42 L38.29,456.91 L47.43,459.65 L65.7,462.39 L84.89,465.13" stroke="#5a5aff" stroke-width="1.0"/>
<path d="M22.56,438.99 L84.89,438.99" stroke="#d27888" stroke-width="1.0"/>
<path d="M22.56,444.11 L30.96,445.02 L38.29,447.77 L41.95,453.25 L56.56,453.62 L71.18,455.44 L84.89,457.82" stroke="#ffff5a" stroke-width="1.0"/>
<path d="M22.56,443.74 L84.89,443.74" stroke="#ff50ff" stroke-width="1.0"/>
<path d="M22.56,445.94 L29.14,452.34 L38.29,455.99 L47.43,459.65 L65.7,461.48 L84.89,463.31" stroke="#50f050" stroke-width="1.0"/>
<path d="M22.56,445.02 L30.96,451.42 L38.29,455.08 L56.56,458.73 L74.85,460.56 L84.89,462.39" stroke="#80d8ff" stroke-width="1.0"/>
<path d="M22.56,443.2 L34.62,449.59 L47.43,455.08 L65.7,457.82 L84.89,459.65" stroke="#c4c4c4" stroke-width="1.0"/>
<path d="M22.56,443.2 L30.96,451.42 L38.29,454.16 L56.56,459.65 L74.85,463.31 L84.89,466.41" stroke="#6a56cc" stroke-width="1.0"/>
<path d="M22.56,449.59 L30.96,453.25 L38.29,455.99 L47.43,457.82 L65.7,463.31 L78.51,466.96 L83.06,471.53 L84.89,473.36" stroke="#ff8050" stroke-width="1.0"/>
<path d="M22.56,435.33 L72.1,435.33 L73.03,444.48 L76.68,444.48 L77.58,446.85 L80.33,447.4 L81.24,449.59 L83.99,450.51 L84.89,452.34" stroke="#bb66dd" stroke-width="1.0"/>
<path d="M22.56,451.42 L32.79,455.99 L41.95,456.91 L56.56,457.82 L74.85,459.65 L84.89,460.56" stroke="#ff7a7a" stroke-width="1.0"/>
<path d="M22.5,477.5 L85.5,477.5" stroke="#e0b060" stroke-width="1.0"/>
<path d="M22.56,443.2 L27.31,446.85 L30.96,450.51 L34.62,455.08 L37.37,457.82 L40.12,457.82 L47.43,460.56 L52.91,465.13 L60.22,466.96 L71.18,467.88 L78.51,468.79 L84.89,468.79" stroke="#e03c00" stroke-width="2.2"/>
</g>
<text transform="translate(21.6,479.75) scale(0.88,1)" class="tk" style="font-size:6.8px" text-anchor="end">0</text>
<path d="M22.5,477.5h0.9M85.5,477.5h-0.9" stroke="#6e6e6e" stroke-width="0.5"/>
<text transform="translate(21.6,463.08) scale(0.88,1)" class="tk" style="font-size:6.8px" text-anchor="end">50</text>
<path d="M22.5,460.83h0.9M85.5,460.83h-0.9" stroke="#6e6e6e" stroke-width="0.5"/>
<text transform="translate(21.6,446.42) scale(0.88,1)" class="tk" style="font-size:6.8px" text-anchor="end">100</text>
<path d="M22.5,444.17h0.9M85.5,444.17h-0.9" stroke="#6e6e6e" stroke-width="0.5"/>
<text transform="translate(21.6,429.75) scale(0.88,1)" class="tk" style="font-size:6.8px" text-anchor="end">150</text>
<path d="M22.5,427.5h0.9M85.5,427.5h-0.9" stroke="#6e6e6e" stroke-width="0.5"/>
<path d="M28.82,477.5v-0.6M28.82,427.5v0.6M32.52,477.5v-0.6M32.52,427.5v0.6M35.14,477.5v-0.6M35.14,427.5v0.6M37.18,477.5v-0.6M37.18,427.5v0.6M38.84,477.5v-0.6M38.84,427.5v0.6M40.25,477.5v-0.6M40.25,427.5v0.6M41.46,477.5v-0.6M41.46,427.5v0.6M42.54,477.5v-0.6M42.54,427.5v0.6M49.82,477.5v-0.6M49.82,427.5v0.6M53.52,477.5v-0.6M53.52,427.5v0.6M56.14,477.5v-0.6M56.14,427.5v0.6M58.18,477.5v-0.6M58.18,427.5v0.6M59.84,477.5v-0.6M59.84,427.5v0.6M61.25,477.5v-0.6M61.25,427.5v0.6M62.46,477.5v-0.6M62.46,427.5v0.6M63.54,477.5v-0.6M63.54,427.5v0.6M70.82,477.5v-0.6M70.82,427.5v0.6M74.52,477.5v-0.6M74.52,427.5v0.6M77.14,477.5v-0.6M77.14,427.5v0.6M79.18,477.5v-0.6M79.18,427.5v0.6M80.84,477.5v-0.6M80.84,427.5v0.6M82.25,477.5v-0.6M82.25,427.5v0.6M83.46,477.5v-0.6M83.46,427.5v0.6M84.54,477.5v-0.6M84.54,427.5v0.6" stroke="#6e6e6e" stroke-width="0.4"/>
<text transform="translate(21.25,487.5) scale(0.75,1)" class="tk" style="font-size:7.2px" text-anchor="middle">10</text>
<text x="25.5" y="482.9" class="tk" style="font-size:4.9px" text-anchor="middle">0</text>
<path d="M43.5,477.5v-0.9M43.5,427.5v0.9" stroke="#6e6e6e" stroke-width="0.5"/>
<text transform="translate(42.25,487.5) scale(0.75,1)" class="tk" style="font-size:7.2px" text-anchor="middle">10</text>
<text x="46.5" y="482.9" class="tk" style="font-size:4.9px" text-anchor="middle">1</text>
<path d="M64.5,477.5v-0.9M64.5,427.5v0.9" stroke="#6e6e6e" stroke-width="0.5"/>
<text transform="translate(63.25,487.5) scale(0.75,1)" class="tk" style="font-size:7.2px" text-anchor="middle">10</text>
<text x="67.5" y="482.9" class="tk" style="font-size:4.9px" text-anchor="middle">2</text>
<text transform="translate(84.25,487.5) scale(0.75,1)" class="tk" style="font-size:7.2px" text-anchor="middle">10</text>
<text x="88.5" y="482.9" class="tk" style="font-size:4.9px" text-anchor="middle">3</text>
<text x="54.8" y="425.6" class="tt" text-anchor="middle">C17-F22</text>
<text x="54.8" y="495.4" class="tt" style="font-size:8px" text-anchor="middle">Iterations</text>
<text transform="translate(9.1,451.5) scale(0.88,1) rotate(-90)" class="tt" text-anchor="middle">Best score obtained</text>
<rect x="292.5" y="415.0" width="73.80000000000001" height="130.0" fill="#fff" stroke="#6e6e6e" stroke-width="0.8"/>
<path d="M297,421.6H338" stroke="#5a5aff" stroke-width="1.0"/>
<text x="341" y="424.5" class="lg">GA</text>
<path d="M297,431.32H338" stroke="#d27888" stroke-width="1.0"/>
<text x="341" y="434.22" class="lg">PSO</text>
<path d="M297,441.04H338" stroke="#ffff5a" stroke-width="1.0"/>
<text x="341" y="443.94" class="lg">GSA</text>
<path d="M297,450.76H338" stroke="#ff50ff" stroke-width="1.0"/>
<text x="341" y="453.66" class="lg">TLBO</text>
<path d="M297,460.48H338" stroke="#50f050" stroke-width="1.0"/>
<text x="341" y="463.38" class="lg">GWO</text>
<path d="M297,470.2H338" stroke="#80d8ff" stroke-width="1.0"/>
<text x="341" y="473.1" class="lg">MVO</text>
<path d="M297,479.92H338" stroke="#c4c4c4" stroke-width="1.0"/>
<text x="341" y="482.82" class="lg">WOA</text>
<path d="M297,489.64H338" stroke="#6a56cc" stroke-width="1.0"/>
<text x="341" y="492.54" class="lg">TSA</text>
<path d="M297,499.36H338" stroke="#ff8050" stroke-width="1.0"/>
<text x="341" y="502.26" class="lg">MPA</text>
<path d="M297,509.08H338" stroke="#bb66dd" stroke-width="1.0"/>
<text x="341" y="511.98" class="lg">RSA</text>
<path d="M297,518.8H338" stroke="#ff7a7a" stroke-width="1.0"/>
<text x="341" y="521.7" class="lg">AVOA</text>
<path d="M297,528.52H338" stroke="#e0b060" stroke-width="1.0"/>
<text x="341" y="531.42" class="lg">WSO</text>
<path d="M297,538.24H338" stroke="#e03c00" stroke-width="2.2"/>
<text x="341" y="541.14" class="lg">GAO</text>
</svg>
</body></html>
